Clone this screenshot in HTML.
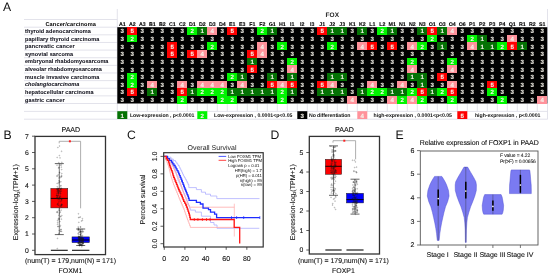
<!DOCTYPE html>
<html><head><meta charset="utf-8"><style>
html,body{margin:0;padding:0;background:#fff;}
body{width:550px;height:277px;overflow:hidden;}
svg{display:block;font-family:"Liberation Sans",Arial,sans-serif;text-rendering:geometricPrecision;}
.pl{font-size:12.2px;fill:#111;}
.fox{font-size:6.5px;font-weight:bold;fill:#222;text-anchor:middle;}
.hd{font-size:5.3px;font-weight:bold;fill:#000;stroke:#000;stroke-width:0.1px;}
.rl{font-size:5.5px;font-weight:bold;fill:#151520;stroke:#151520;stroke-width:0.07px;}
.hd0{letter-spacing:0.3px;}
.it{font-style:italic;}
.cv{font-size:6.2px;font-weight:bold;fill:#f6f2ea;stroke:#f6f2ea;stroke-width:0.08px;text-anchor:middle;}
.lg{font-size:5.2px;font-weight:bold;fill:#111;}
.t6{font-size:7px;fill:#111;stroke:#111;stroke-width:0.1px;}
.tk{font-size:6.8px;fill:#111;stroke:#111;stroke-width:0.1px;}
.t63{font-size:6.95px;fill:#111;stroke:#111;stroke-width:0.1px;}
.t65{font-size:7px;fill:#111;stroke:#111;stroke-width:0.1px;}
.t7{font-size:7px;fill:#222;}
.t45{font-size:4.25px;fill:#111;}
.t5{font-size:5px;fill:#111;stroke:#111;stroke-width:0.05px;}
</style></head><body>
<svg width="550" height="277" viewBox="0 0 550 277">
<text x="3.0" y="10.9" class="pl">A</text>
<line x1="24" y1="19.5" x2="117.3" y2="19.5" stroke="#dcdce6" stroke-width="0.8"/>
<line x1="24" y1="27.2" x2="117.3" y2="27.2" stroke="#dcdce6" stroke-width="0.8"/>
<line x1="24" y1="34.83" x2="117.3" y2="34.83" stroke="#dcdce6" stroke-width="0.8"/>
<line x1="24" y1="42.46" x2="117.3" y2="42.46" stroke="#dcdce6" stroke-width="0.8"/>
<line x1="24" y1="50.09" x2="117.3" y2="50.09" stroke="#dcdce6" stroke-width="0.8"/>
<line x1="24" y1="57.72" x2="117.3" y2="57.72" stroke="#dcdce6" stroke-width="0.8"/>
<line x1="24" y1="65.35" x2="117.3" y2="65.35" stroke="#dcdce6" stroke-width="0.8"/>
<line x1="24" y1="72.98" x2="117.3" y2="72.98" stroke="#dcdce6" stroke-width="0.8"/>
<line x1="24" y1="80.61" x2="117.3" y2="80.61" stroke="#dcdce6" stroke-width="0.8"/>
<line x1="24" y1="88.24" x2="117.3" y2="88.24" stroke="#dcdce6" stroke-width="0.8"/>
<line x1="24" y1="95.87" x2="117.3" y2="95.87" stroke="#dcdce6" stroke-width="0.8"/>
<line x1="24" y1="103.5" x2="117.3" y2="103.5" stroke="#dcdce6" stroke-width="0.8"/>
<line x1="24" y1="111.4" x2="117.3" y2="111.4" stroke="#dcdce6" stroke-width="0.8"/>
<line x1="24" y1="119.2" x2="117.3" y2="119.2" stroke="#dcdce6" stroke-width="0.8"/>
<line x1="117.3" y1="111.4" x2="547.5" y2="111.4" stroke="#dcdce6" stroke-width="0.8"/>
<line x1="117.3" y1="119.2" x2="547.5" y2="119.2" stroke="#dcdce6" stroke-width="0.8"/>
<line x1="117.3" y1="9" x2="117.3" y2="119.2" stroke="#dcdce6" stroke-width="0.8"/>
<line x1="547.5" y1="9" x2="547.5" y2="119.2" stroke="#dcdce6" stroke-width="0.8"/>
<line x1="127.3" y1="103.5" x2="127.3" y2="111.4" stroke="#dcdce6" stroke-width="0.8"/>
<line x1="137.3" y1="103.5" x2="137.3" y2="111.4" stroke="#dcdce6" stroke-width="0.8"/>
<line x1="147.3" y1="103.5" x2="147.3" y2="111.4" stroke="#dcdce6" stroke-width="0.8"/>
<line x1="157.3" y1="103.5" x2="157.3" y2="111.4" stroke="#dcdce6" stroke-width="0.8"/>
<line x1="167.3" y1="103.5" x2="167.3" y2="111.4" stroke="#dcdce6" stroke-width="0.8"/>
<line x1="177.3" y1="103.5" x2="177.3" y2="111.4" stroke="#dcdce6" stroke-width="0.8"/>
<line x1="187.3" y1="103.5" x2="187.3" y2="111.4" stroke="#dcdce6" stroke-width="0.8"/>
<line x1="197.3" y1="103.5" x2="197.3" y2="111.4" stroke="#dcdce6" stroke-width="0.8"/>
<line x1="207.3" y1="103.5" x2="207.3" y2="111.4" stroke="#dcdce6" stroke-width="0.8"/>
<line x1="217.3" y1="103.5" x2="217.3" y2="111.4" stroke="#dcdce6" stroke-width="0.8"/>
<line x1="227.3" y1="103.5" x2="227.3" y2="111.4" stroke="#dcdce6" stroke-width="0.8"/>
<line x1="237.3" y1="103.5" x2="237.3" y2="111.4" stroke="#dcdce6" stroke-width="0.8"/>
<line x1="247.3" y1="103.5" x2="247.3" y2="111.4" stroke="#dcdce6" stroke-width="0.8"/>
<line x1="257.3" y1="103.5" x2="257.3" y2="111.4" stroke="#dcdce6" stroke-width="0.8"/>
<line x1="267.3" y1="103.5" x2="267.3" y2="111.4" stroke="#dcdce6" stroke-width="0.8"/>
<line x1="277.3" y1="103.5" x2="277.3" y2="111.4" stroke="#dcdce6" stroke-width="0.8"/>
<line x1="287.3" y1="103.5" x2="287.3" y2="111.4" stroke="#dcdce6" stroke-width="0.8"/>
<line x1="297.3" y1="103.5" x2="297.3" y2="111.4" stroke="#dcdce6" stroke-width="0.8"/>
<line x1="307.3" y1="103.5" x2="307.3" y2="111.4" stroke="#dcdce6" stroke-width="0.8"/>
<line x1="317.3" y1="103.5" x2="317.3" y2="111.4" stroke="#dcdce6" stroke-width="0.8"/>
<line x1="327.3" y1="103.5" x2="327.3" y2="111.4" stroke="#dcdce6" stroke-width="0.8"/>
<line x1="337.3" y1="103.5" x2="337.3" y2="111.4" stroke="#dcdce6" stroke-width="0.8"/>
<line x1="347.3" y1="103.5" x2="347.3" y2="111.4" stroke="#dcdce6" stroke-width="0.8"/>
<line x1="357.3" y1="103.5" x2="357.3" y2="111.4" stroke="#dcdce6" stroke-width="0.8"/>
<line x1="367.3" y1="103.5" x2="367.3" y2="111.4" stroke="#dcdce6" stroke-width="0.8"/>
<line x1="377.3" y1="103.5" x2="377.3" y2="111.4" stroke="#dcdce6" stroke-width="0.8"/>
<line x1="387.3" y1="103.5" x2="387.3" y2="111.4" stroke="#dcdce6" stroke-width="0.8"/>
<line x1="397.3" y1="103.5" x2="397.3" y2="111.4" stroke="#dcdce6" stroke-width="0.8"/>
<line x1="407.3" y1="103.5" x2="407.3" y2="111.4" stroke="#dcdce6" stroke-width="0.8"/>
<line x1="417.3" y1="103.5" x2="417.3" y2="111.4" stroke="#dcdce6" stroke-width="0.8"/>
<line x1="427.3" y1="103.5" x2="427.3" y2="111.4" stroke="#dcdce6" stroke-width="0.8"/>
<line x1="437.3" y1="103.5" x2="437.3" y2="111.4" stroke="#dcdce6" stroke-width="0.8"/>
<line x1="447.3" y1="103.5" x2="447.3" y2="111.4" stroke="#dcdce6" stroke-width="0.8"/>
<line x1="457.3" y1="103.5" x2="457.3" y2="111.4" stroke="#dcdce6" stroke-width="0.8"/>
<line x1="467.3" y1="103.5" x2="467.3" y2="111.4" stroke="#dcdce6" stroke-width="0.8"/>
<line x1="477.3" y1="103.5" x2="477.3" y2="111.4" stroke="#dcdce6" stroke-width="0.8"/>
<line x1="487.3" y1="103.5" x2="487.3" y2="111.4" stroke="#dcdce6" stroke-width="0.8"/>
<line x1="497.3" y1="103.5" x2="497.3" y2="111.4" stroke="#dcdce6" stroke-width="0.8"/>
<line x1="507.3" y1="103.5" x2="507.3" y2="111.4" stroke="#dcdce6" stroke-width="0.8"/>
<line x1="517.3" y1="103.5" x2="517.3" y2="111.4" stroke="#dcdce6" stroke-width="0.8"/>
<line x1="527.3" y1="103.5" x2="527.3" y2="111.4" stroke="#dcdce6" stroke-width="0.8"/>
<line x1="537.3" y1="103.5" x2="537.3" y2="111.4" stroke="#dcdce6" stroke-width="0.8"/>
<text x="332.3" y="16.5" class="fox">FOX</text>
<text x="70.65" y="25.7" class="hd" text-anchor="middle" textLength="50.4" style="font-size:5.6px;stroke:none">Cancer/carcinoma</text>
<text x="122.3" y="25.6" class="hd" text-anchor="middle">A1</text>
<text x="132.3" y="25.6" class="hd" text-anchor="middle">A2</text>
<text x="142.3" y="25.6" class="hd" text-anchor="middle">A3</text>
<text x="152.3" y="25.6" class="hd" text-anchor="middle">B1</text>
<text x="162.3" y="25.6" class="hd" text-anchor="middle">B2</text>
<text x="172.3" y="25.6" class="hd" text-anchor="middle">C1</text>
<text x="182.3" y="25.6" class="hd" text-anchor="middle">C2</text>
<text x="192.3" y="25.6" class="hd" text-anchor="middle">D1</text>
<text x="202.3" y="25.6" class="hd" text-anchor="middle">D2</text>
<text x="212.3" y="25.6" class="hd" text-anchor="middle">D3</text>
<text x="222.3" y="25.6" class="hd" text-anchor="middle">D4</text>
<text x="232.3" y="25.6" class="hd" text-anchor="middle">E1</text>
<text x="242.3" y="25.6" class="hd" text-anchor="middle">E3</text>
<text x="252.3" y="25.6" class="hd" text-anchor="middle">F1</text>
<text x="262.3" y="25.6" class="hd" text-anchor="middle">F2</text>
<text x="272.3" y="25.6" class="hd" text-anchor="middle">G1</text>
<text x="282.3" y="25.6" class="hd" text-anchor="middle">H1</text>
<text x="292.3" y="25.6" class="hd" text-anchor="middle">I1</text>
<text x="302.3" y="25.6" class="hd" text-anchor="middle">I2</text>
<text x="312.3" y="25.6" class="hd" text-anchor="middle">I3</text>
<text x="322.3" y="25.6" class="hd" text-anchor="middle">J1</text>
<text x="332.3" y="25.6" class="hd" text-anchor="middle">J2</text>
<text x="342.3" y="25.6" class="hd" text-anchor="middle">J3</text>
<text x="352.3" y="25.6" class="hd" text-anchor="middle">K1</text>
<text x="362.3" y="25.6" class="hd" text-anchor="middle">K2</text>
<text x="372.3" y="25.6" class="hd" text-anchor="middle">L1</text>
<text x="382.3" y="25.6" class="hd" text-anchor="middle">L2</text>
<text x="392.3" y="25.6" class="hd" text-anchor="middle">M1</text>
<text x="402.3" y="25.6" class="hd" text-anchor="middle">N1</text>
<text x="412.3" y="25.6" class="hd" text-anchor="middle">N2</text>
<text x="422.3" y="25.6" class="hd" text-anchor="middle">N3</text>
<text x="432.3" y="25.6" class="hd" text-anchor="middle">O1</text>
<text x="442.3" y="25.6" class="hd" text-anchor="middle">O3</text>
<text x="452.3" y="25.6" class="hd" text-anchor="middle">O4</text>
<text x="462.3" y="25.6" class="hd" text-anchor="middle">O6</text>
<text x="472.3" y="25.6" class="hd" text-anchor="middle">P1</text>
<text x="482.3" y="25.6" class="hd" text-anchor="middle">P2</text>
<text x="492.3" y="25.6" class="hd" text-anchor="middle">P3</text>
<text x="502.3" y="25.6" class="hd" text-anchor="middle">P4</text>
<text x="512.3" y="25.6" class="hd" text-anchor="middle">Q1</text>
<text x="522.3" y="25.6" class="hd" text-anchor="middle">R1</text>
<text x="532.3" y="25.6" class="hd" text-anchor="middle">R2</text>
<text x="542.3" y="25.6" class="hd" text-anchor="middle">S1</text>
<rect x="117.3" y="27.2" width="430.0" height="76.3" fill="#000"/>
<text x="25" y="32.90" class="rl" textLength="65.7">thyroid adenocarcinoma</text>
<text x="122.30" y="33.40" class="cv">3</text>
<rect x="127.30" y="27.20" width="10.0" height="7.63" fill="#ff0000" shape-rendering="crispEdges"/>
<text x="132.30" y="33.40" class="cv">5</text>
<text x="142.30" y="33.40" class="cv">3</text>
<text x="152.30" y="33.40" class="cv">3</text>
<text x="162.30" y="33.40" class="cv">3</text>
<text x="172.30" y="33.40" class="cv">3</text>
<text x="182.30" y="33.40" class="cv">3</text>
<rect x="187.30" y="27.20" width="10.0" height="7.63" fill="#00f400" shape-rendering="crispEdges"/>
<text x="192.30" y="33.40" class="cv">2</text>
<rect x="197.30" y="27.20" width="10.0" height="7.63" fill="#047204" shape-rendering="crispEdges"/>
<text x="202.30" y="33.40" class="cv">1</text>
<rect x="207.30" y="27.20" width="10.0" height="7.63" fill="#ff929b" shape-rendering="crispEdges"/>
<text x="212.30" y="33.40" class="cv">4</text>
<text x="222.30" y="33.40" class="cv">3</text>
<rect x="227.30" y="27.20" width="10.0" height="7.63" fill="#ff0000" shape-rendering="crispEdges"/>
<text x="232.30" y="33.40" class="cv">5</text>
<text x="242.30" y="33.40" class="cv">3</text>
<text x="252.30" y="33.40" class="cv">3</text>
<rect x="257.30" y="27.20" width="10.0" height="7.63" fill="#00f400" shape-rendering="crispEdges"/>
<text x="262.30" y="33.40" class="cv">2</text>
<rect x="267.30" y="27.20" width="10.0" height="7.63" fill="#047204" shape-rendering="crispEdges"/>
<text x="272.30" y="33.40" class="cv">1</text>
<text x="282.30" y="33.40" class="cv">3</text>
<text x="292.30" y="33.40" class="cv">3</text>
<text x="302.30" y="33.40" class="cv">3</text>
<text x="312.30" y="33.40" class="cv">3</text>
<rect x="317.30" y="27.20" width="10.0" height="7.63" fill="#ff0000" shape-rendering="crispEdges"/>
<text x="322.30" y="33.40" class="cv">5</text>
<rect x="327.30" y="27.20" width="10.0" height="7.63" fill="#047204" shape-rendering="crispEdges"/>
<text x="332.30" y="33.40" class="cv">1</text>
<rect x="337.30" y="27.20" width="10.0" height="7.63" fill="#047204" shape-rendering="crispEdges"/>
<text x="342.30" y="33.40" class="cv">1</text>
<text x="352.30" y="33.40" class="cv">3</text>
<rect x="357.30" y="27.20" width="10.0" height="7.63" fill="#047204" shape-rendering="crispEdges"/>
<text x="362.30" y="33.40" class="cv">1</text>
<text x="372.30" y="33.40" class="cv">3</text>
<rect x="377.30" y="27.20" width="10.0" height="7.63" fill="#00f400" shape-rendering="crispEdges"/>
<text x="382.30" y="33.40" class="cv">2</text>
<rect x="387.30" y="27.20" width="10.0" height="7.63" fill="#047204" shape-rendering="crispEdges"/>
<text x="392.30" y="33.40" class="cv">1</text>
<text x="402.30" y="33.40" class="cv">3</text>
<text x="412.30" y="33.40" class="cv">3</text>
<rect x="417.30" y="27.20" width="10.0" height="7.63" fill="#047204" shape-rendering="crispEdges"/>
<text x="422.30" y="33.40" class="cv">1</text>
<rect x="427.30" y="27.20" width="10.0" height="7.63" fill="#ff0000" shape-rendering="crispEdges"/>
<text x="432.30" y="33.40" class="cv">5</text>
<rect x="437.30" y="27.20" width="10.0" height="7.63" fill="#047204" shape-rendering="crispEdges"/>
<text x="442.30" y="33.40" class="cv">1</text>
<rect x="447.30" y="27.20" width="10.0" height="7.63" fill="#ff929b" shape-rendering="crispEdges"/>
<text x="452.30" y="33.40" class="cv">4</text>
<text x="462.30" y="33.40" class="cv">3</text>
<text x="472.30" y="33.40" class="cv">3</text>
<text x="482.30" y="33.40" class="cv">3</text>
<text x="492.30" y="33.40" class="cv">3</text>
<text x="502.30" y="33.40" class="cv">3</text>
<text x="512.30" y="33.40" class="cv">3</text>
<text x="522.30" y="33.40" class="cv">3</text>
<text x="532.30" y="33.40" class="cv">3</text>
<text x="542.30" y="33.40" class="cv">3</text>
<text x="25" y="40.53" class="rl" textLength="74.3">papillary thyroid carcinoma</text>
<text x="122.30" y="41.03" class="cv">3</text>
<rect x="127.30" y="34.83" width="10.0" height="7.63" fill="#00f400" shape-rendering="crispEdges"/>
<text x="132.30" y="41.03" class="cv">2</text>
<text x="142.30" y="41.03" class="cv">3</text>
<text x="152.30" y="41.03" class="cv">3</text>
<text x="162.30" y="41.03" class="cv">3</text>
<text x="172.30" y="41.03" class="cv">3</text>
<text x="182.30" y="41.03" class="cv">3</text>
<text x="192.30" y="41.03" class="cv">3</text>
<text x="202.30" y="41.03" class="cv">3</text>
<text x="212.30" y="41.03" class="cv">3</text>
<text x="222.30" y="41.03" class="cv">3</text>
<text x="232.30" y="41.03" class="cv">3</text>
<text x="242.30" y="41.03" class="cv">3</text>
<text x="252.30" y="41.03" class="cv">3</text>
<text x="262.30" y="41.03" class="cv">3</text>
<text x="272.30" y="41.03" class="cv">3</text>
<text x="282.30" y="41.03" class="cv">3</text>
<text x="292.30" y="41.03" class="cv">3</text>
<text x="302.30" y="41.03" class="cv">3</text>
<text x="312.30" y="41.03" class="cv">3</text>
<text x="322.30" y="41.03" class="cv">3</text>
<text x="332.30" y="41.03" class="cv">3</text>
<text x="342.30" y="41.03" class="cv">3</text>
<text x="352.30" y="41.03" class="cv">3</text>
<text x="362.30" y="41.03" class="cv">3</text>
<text x="372.30" y="41.03" class="cv">3</text>
<text x="382.30" y="41.03" class="cv">3</text>
<text x="392.30" y="41.03" class="cv">3</text>
<text x="402.30" y="41.03" class="cv">3</text>
<text x="412.30" y="41.03" class="cv">3</text>
<text x="422.30" y="41.03" class="cv">3</text>
<rect x="427.30" y="34.83" width="10.0" height="7.63" fill="#00f400" shape-rendering="crispEdges"/>
<text x="432.30" y="41.03" class="cv">2</text>
<text x="442.30" y="41.03" class="cv">3</text>
<text x="452.30" y="41.03" class="cv">3</text>
<text x="462.30" y="41.03" class="cv">3</text>
<rect x="467.30" y="34.83" width="10.0" height="7.63" fill="#00f400" shape-rendering="crispEdges"/>
<text x="472.30" y="41.03" class="cv">2</text>
<rect x="477.30" y="34.83" width="10.0" height="7.63" fill="#047204" shape-rendering="crispEdges"/>
<text x="482.30" y="41.03" class="cv">1</text>
<text x="492.30" y="41.03" class="cv">3</text>
<text x="502.30" y="41.03" class="cv">3</text>
<rect x="507.30" y="34.83" width="10.0" height="7.63" fill="#ff929b" shape-rendering="crispEdges"/>
<text x="512.30" y="41.03" class="cv">4</text>
<text x="522.30" y="41.03" class="cv">3</text>
<text x="532.30" y="41.03" class="cv">3</text>
<text x="542.30" y="41.03" class="cv">3</text>
<text x="25" y="48.16" class="rl" textLength="49.6">pancreatic cancer</text>
<text x="122.30" y="48.66" class="cv">3</text>
<text x="132.30" y="48.66" class="cv">3</text>
<text x="142.30" y="48.66" class="cv">3</text>
<text x="152.30" y="48.66" class="cv">3</text>
<text x="162.30" y="48.66" class="cv">3</text>
<rect x="167.30" y="42.46" width="10.0" height="7.63" fill="#ff0000" shape-rendering="crispEdges"/>
<text x="172.30" y="48.66" class="cv">5</text>
<text x="182.30" y="48.66" class="cv">3</text>
<text x="192.30" y="48.66" class="cv">3</text>
<text x="202.30" y="48.66" class="cv">3</text>
<rect x="207.30" y="42.46" width="10.0" height="7.63" fill="#00f400" shape-rendering="crispEdges"/>
<text x="212.30" y="48.66" class="cv">2</text>
<text x="222.30" y="48.66" class="cv">3</text>
<text x="232.30" y="48.66" class="cv">3</text>
<text x="242.30" y="48.66" class="cv">3</text>
<text x="252.30" y="48.66" class="cv">3</text>
<rect x="257.30" y="42.46" width="10.0" height="7.63" fill="#ff929b" shape-rendering="crispEdges"/>
<text x="262.30" y="48.66" class="cv">4</text>
<text x="272.30" y="48.66" class="cv">3</text>
<rect x="277.30" y="42.46" width="10.0" height="7.63" fill="#00f400" shape-rendering="crispEdges"/>
<text x="282.30" y="48.66" class="cv">2</text>
<text x="292.30" y="48.66" class="cv">3</text>
<text x="302.30" y="48.66" class="cv">3</text>
<text x="312.30" y="48.66" class="cv">3</text>
<text x="322.30" y="48.66" class="cv">3</text>
<rect x="327.30" y="42.46" width="10.0" height="7.63" fill="#00f400" shape-rendering="crispEdges"/>
<text x="332.30" y="48.66" class="cv">2</text>
<text x="342.30" y="48.66" class="cv">3</text>
<text x="352.30" y="48.66" class="cv">3</text>
<rect x="357.30" y="42.46" width="10.0" height="7.63" fill="#ff929b" shape-rendering="crispEdges"/>
<text x="362.30" y="48.66" class="cv">4</text>
<rect x="367.30" y="42.46" width="10.0" height="7.63" fill="#ff0000" shape-rendering="crispEdges"/>
<text x="372.30" y="48.66" class="cv">5</text>
<text x="382.30" y="48.66" class="cv">3</text>
<rect x="387.30" y="42.46" width="10.0" height="7.63" fill="#ff0000" shape-rendering="crispEdges"/>
<text x="392.30" y="48.66" class="cv">5</text>
<text x="402.30" y="48.66" class="cv">3</text>
<rect x="407.30" y="42.46" width="10.0" height="7.63" fill="#ff929b" shape-rendering="crispEdges"/>
<text x="412.30" y="48.66" class="cv">4</text>
<rect x="417.30" y="42.46" width="10.0" height="7.63" fill="#00f400" shape-rendering="crispEdges"/>
<text x="422.30" y="48.66" class="cv">2</text>
<text x="432.30" y="48.66" class="cv">3</text>
<rect x="437.30" y="42.46" width="10.0" height="7.63" fill="#047204" shape-rendering="crispEdges"/>
<text x="442.30" y="48.66" class="cv">1</text>
<text x="452.30" y="48.66" class="cv">3</text>
<text x="462.30" y="48.66" class="cv">3</text>
<rect x="467.30" y="42.46" width="10.0" height="7.63" fill="#ff929b" shape-rendering="crispEdges"/>
<text x="472.30" y="48.66" class="cv">4</text>
<rect x="477.30" y="42.46" width="10.0" height="7.63" fill="#047204" shape-rendering="crispEdges"/>
<text x="482.30" y="48.66" class="cv">1</text>
<rect x="487.30" y="42.46" width="10.0" height="7.63" fill="#047204" shape-rendering="crispEdges"/>
<text x="492.30" y="48.66" class="cv">1</text>
<rect x="497.30" y="42.46" width="10.0" height="7.63" fill="#00f400" shape-rendering="crispEdges"/>
<text x="502.30" y="48.66" class="cv">2</text>
<rect x="507.30" y="42.46" width="10.0" height="7.63" fill="#ff0000" shape-rendering="crispEdges"/>
<text x="512.30" y="48.66" class="cv">5</text>
<rect x="517.30" y="42.46" width="10.0" height="7.63" fill="#047204" shape-rendering="crispEdges"/>
<text x="522.30" y="48.66" class="cv">1</text>
<text x="532.30" y="48.66" class="cv">3</text>
<text x="542.30" y="48.66" class="cv">3</text>
<text x="25" y="55.79" class="rl" textLength="48.0">synovial sarcoma</text>
<text x="122.30" y="56.29" class="cv">3</text>
<text x="132.30" y="56.29" class="cv">3</text>
<text x="142.30" y="56.29" class="cv">3</text>
<text x="152.30" y="56.29" class="cv">3</text>
<text x="162.30" y="56.29" class="cv">3</text>
<rect x="167.30" y="50.09" width="10.0" height="7.63" fill="#ff0000" shape-rendering="crispEdges"/>
<text x="172.30" y="56.29" class="cv">5</text>
<text x="182.30" y="56.29" class="cv">3</text>
<rect x="187.30" y="50.09" width="10.0" height="7.63" fill="#ff0000" shape-rendering="crispEdges"/>
<text x="192.30" y="56.29" class="cv">5</text>
<rect x="197.30" y="50.09" width="10.0" height="7.63" fill="#ff929b" shape-rendering="crispEdges"/>
<text x="202.30" y="56.29" class="cv">4</text>
<text x="212.30" y="56.29" class="cv">3</text>
<text x="222.30" y="56.29" class="cv">3</text>
<text x="232.30" y="56.29" class="cv">3</text>
<text x="242.30" y="56.29" class="cv">3</text>
<rect x="247.30" y="50.09" width="10.0" height="7.63" fill="#ff0000" shape-rendering="crispEdges"/>
<text x="252.30" y="56.29" class="cv">5</text>
<rect x="257.30" y="50.09" width="10.0" height="7.63" fill="#ff929b" shape-rendering="crispEdges"/>
<text x="262.30" y="56.29" class="cv">4</text>
<text x="272.30" y="56.29" class="cv">3</text>
<text x="282.30" y="56.29" class="cv">3</text>
<text x="292.30" y="56.29" class="cv">3</text>
<text x="302.30" y="56.29" class="cv">3</text>
<text x="312.30" y="56.29" class="cv">3</text>
<text x="322.30" y="56.29" class="cv">3</text>
<text x="332.30" y="56.29" class="cv">3</text>
<text x="342.30" y="56.29" class="cv">3</text>
<text x="352.30" y="56.29" class="cv">3</text>
<text x="362.30" y="56.29" class="cv">3</text>
<text x="372.30" y="56.29" class="cv">3</text>
<text x="382.30" y="56.29" class="cv">3</text>
<text x="392.30" y="56.29" class="cv">3</text>
<text x="402.30" y="56.29" class="cv">3</text>
<text x="412.30" y="56.29" class="cv">3</text>
<text x="422.30" y="56.29" class="cv">3</text>
<text x="432.30" y="56.29" class="cv">3</text>
<text x="442.30" y="56.29" class="cv">3</text>
<text x="452.30" y="56.29" class="cv">3</text>
<text x="462.30" y="56.29" class="cv">3</text>
<text x="472.30" y="56.29" class="cv">3</text>
<text x="482.30" y="56.29" class="cv">3</text>
<text x="492.30" y="56.29" class="cv">3</text>
<text x="502.30" y="56.29" class="cv">3</text>
<text x="512.30" y="56.29" class="cv">3</text>
<text x="522.30" y="56.29" class="cv">3</text>
<text x="532.30" y="56.29" class="cv">3</text>
<text x="542.30" y="56.29" class="cv">3</text>
<text x="25" y="63.42" class="rl" textLength="83.4">embryonal rhabdomyosarcoma</text>
<text x="122.30" y="63.92" class="cv">3</text>
<text x="132.30" y="63.92" class="cv">3</text>
<text x="142.30" y="63.92" class="cv">3</text>
<text x="152.30" y="63.92" class="cv">3</text>
<text x="162.30" y="63.92" class="cv">3</text>
<text x="172.30" y="63.92" class="cv">3</text>
<text x="182.30" y="63.92" class="cv">3</text>
<text x="192.30" y="63.92" class="cv">3</text>
<text x="202.30" y="63.92" class="cv">3</text>
<text x="212.30" y="63.92" class="cv">3</text>
<text x="222.30" y="63.92" class="cv">3</text>
<text x="232.30" y="63.92" class="cv">3</text>
<text x="242.30" y="63.92" class="cv">3</text>
<rect x="247.30" y="57.72" width="10.0" height="7.63" fill="#047204" shape-rendering="crispEdges"/>
<text x="252.30" y="63.92" class="cv">1</text>
<text x="262.30" y="63.92" class="cv">3</text>
<text x="272.30" y="63.92" class="cv">3</text>
<text x="282.30" y="63.92" class="cv">3</text>
<rect x="287.30" y="57.72" width="10.0" height="7.63" fill="#00f400" shape-rendering="crispEdges"/>
<text x="292.30" y="63.92" class="cv">2</text>
<text x="302.30" y="63.92" class="cv">3</text>
<text x="312.30" y="63.92" class="cv">3</text>
<text x="322.30" y="63.92" class="cv">3</text>
<text x="332.30" y="63.92" class="cv">3</text>
<text x="342.30" y="63.92" class="cv">3</text>
<text x="352.30" y="63.92" class="cv">3</text>
<text x="362.30" y="63.92" class="cv">3</text>
<text x="372.30" y="63.92" class="cv">3</text>
<text x="382.30" y="63.92" class="cv">3</text>
<text x="392.30" y="63.92" class="cv">3</text>
<text x="402.30" y="63.92" class="cv">3</text>
<rect x="407.30" y="57.72" width="10.0" height="7.63" fill="#00f400" shape-rendering="crispEdges"/>
<text x="412.30" y="63.92" class="cv">2</text>
<text x="422.30" y="63.92" class="cv">3</text>
<text x="432.30" y="63.92" class="cv">3</text>
<text x="442.30" y="63.92" class="cv">3</text>
<rect x="447.30" y="57.72" width="10.0" height="7.63" fill="#00f400" shape-rendering="crispEdges"/>
<text x="452.30" y="63.92" class="cv">2</text>
<text x="462.30" y="63.92" class="cv">3</text>
<text x="472.30" y="63.92" class="cv">3</text>
<text x="482.30" y="63.92" class="cv">3</text>
<text x="492.30" y="63.92" class="cv">3</text>
<text x="502.30" y="63.92" class="cv">3</text>
<text x="512.30" y="63.92" class="cv">3</text>
<text x="522.30" y="63.92" class="cv">3</text>
<text x="532.30" y="63.92" class="cv">3</text>
<text x="542.30" y="63.92" class="cv">3</text>
<text x="25" y="71.05" class="rl" textLength="76.9">alveolar rhabdomyosarcoma</text>
<text x="122.30" y="71.55" class="cv">3</text>
<text x="132.30" y="71.55" class="cv">3</text>
<text x="142.30" y="71.55" class="cv">3</text>
<text x="152.30" y="71.55" class="cv">3</text>
<text x="162.30" y="71.55" class="cv">3</text>
<text x="172.30" y="71.55" class="cv">3</text>
<text x="182.30" y="71.55" class="cv">3</text>
<text x="192.30" y="71.55" class="cv">3</text>
<text x="202.30" y="71.55" class="cv">3</text>
<text x="212.30" y="71.55" class="cv">3</text>
<text x="222.30" y="71.55" class="cv">3</text>
<text x="232.30" y="71.55" class="cv">3</text>
<text x="242.30" y="71.55" class="cv">3</text>
<rect x="247.30" y="65.35" width="10.0" height="7.63" fill="#ff0000" shape-rendering="crispEdges"/>
<text x="252.30" y="71.55" class="cv">5</text>
<text x="262.30" y="71.55" class="cv">3</text>
<text x="272.30" y="71.55" class="cv">3</text>
<text x="282.30" y="71.55" class="cv">3</text>
<rect x="287.30" y="65.35" width="10.0" height="7.63" fill="#ff929b" shape-rendering="crispEdges"/>
<text x="292.30" y="71.55" class="cv">4</text>
<text x="302.30" y="71.55" class="cv">3</text>
<text x="312.30" y="71.55" class="cv">3</text>
<text x="322.30" y="71.55" class="cv">3</text>
<text x="332.30" y="71.55" class="cv">3</text>
<text x="342.30" y="71.55" class="cv">3</text>
<text x="352.30" y="71.55" class="cv">3</text>
<text x="362.30" y="71.55" class="cv">3</text>
<text x="372.30" y="71.55" class="cv">3</text>
<text x="382.30" y="71.55" class="cv">3</text>
<text x="392.30" y="71.55" class="cv">3</text>
<text x="402.30" y="71.55" class="cv">3</text>
<rect x="407.30" y="65.35" width="10.0" height="7.63" fill="#ff929b" shape-rendering="crispEdges"/>
<text x="412.30" y="71.55" class="cv">4</text>
<text x="422.30" y="71.55" class="cv">3</text>
<text x="432.30" y="71.55" class="cv">3</text>
<text x="442.30" y="71.55" class="cv">3</text>
<rect x="447.30" y="65.35" width="10.0" height="7.63" fill="#ff929b" shape-rendering="crispEdges"/>
<text x="452.30" y="71.55" class="cv">4</text>
<text x="462.30" y="71.55" class="cv">3</text>
<text x="472.30" y="71.55" class="cv">3</text>
<text x="482.30" y="71.55" class="cv">3</text>
<text x="492.30" y="71.55" class="cv">3</text>
<text x="502.30" y="71.55" class="cv">3</text>
<text x="512.30" y="71.55" class="cv">3</text>
<text x="522.30" y="71.55" class="cv">3</text>
<text x="532.30" y="71.55" class="cv">3</text>
<text x="542.30" y="71.55" class="cv">3</text>
<text x="25" y="78.68" class="rl" textLength="74.3">muscle invasive carcinoma</text>
<text x="122.30" y="79.18" class="cv">3</text>
<rect x="127.30" y="72.98" width="10.0" height="7.63" fill="#00f400" shape-rendering="crispEdges"/>
<text x="132.30" y="79.18" class="cv">2</text>
<text x="142.30" y="79.18" class="cv">3</text>
<text x="152.30" y="79.18" class="cv">3</text>
<text x="162.30" y="79.18" class="cv">3</text>
<text x="172.30" y="79.18" class="cv">3</text>
<text x="182.30" y="79.18" class="cv">3</text>
<text x="192.30" y="79.18" class="cv">3</text>
<text x="202.30" y="79.18" class="cv">3</text>
<text x="212.30" y="79.18" class="cv">3</text>
<text x="222.30" y="79.18" class="cv">3</text>
<rect x="227.30" y="72.98" width="10.0" height="7.63" fill="#00f400" shape-rendering="crispEdges"/>
<text x="232.30" y="79.18" class="cv">2</text>
<rect x="237.30" y="72.98" width="10.0" height="7.63" fill="#047204" shape-rendering="crispEdges"/>
<text x="242.30" y="79.18" class="cv">1</text>
<text x="252.30" y="79.18" class="cv">3</text>
<text x="262.30" y="79.18" class="cv">3</text>
<rect x="267.30" y="72.98" width="10.0" height="7.63" fill="#047204" shape-rendering="crispEdges"/>
<text x="272.30" y="79.18" class="cv">1</text>
<text x="282.30" y="79.18" class="cv">3</text>
<rect x="287.30" y="72.98" width="10.0" height="7.63" fill="#047204" shape-rendering="crispEdges"/>
<text x="292.30" y="79.18" class="cv">1</text>
<text x="302.30" y="79.18" class="cv">3</text>
<text x="312.30" y="79.18" class="cv">3</text>
<text x="322.30" y="79.18" class="cv">3</text>
<rect x="327.30" y="72.98" width="10.0" height="7.63" fill="#047204" shape-rendering="crispEdges"/>
<text x="332.30" y="79.18" class="cv">1</text>
<rect x="337.30" y="72.98" width="10.0" height="7.63" fill="#047204" shape-rendering="crispEdges"/>
<text x="342.30" y="79.18" class="cv">1</text>
<text x="352.30" y="79.18" class="cv">3</text>
<text x="362.30" y="79.18" class="cv">3</text>
<text x="372.30" y="79.18" class="cv">3</text>
<text x="382.30" y="79.18" class="cv">3</text>
<text x="392.30" y="79.18" class="cv">3</text>
<text x="402.30" y="79.18" class="cv">3</text>
<rect x="407.30" y="72.98" width="10.0" height="7.63" fill="#047204" shape-rendering="crispEdges"/>
<text x="412.30" y="79.18" class="cv">1</text>
<rect x="417.30" y="72.98" width="10.0" height="7.63" fill="#047204" shape-rendering="crispEdges"/>
<text x="422.30" y="79.18" class="cv">1</text>
<text x="432.30" y="79.18" class="cv">3</text>
<rect x="437.30" y="72.98" width="10.0" height="7.63" fill="#ff0000" shape-rendering="crispEdges"/>
<text x="442.30" y="79.18" class="cv">5</text>
<text x="452.30" y="79.18" class="cv">3</text>
<text x="462.30" y="79.18" class="cv">3</text>
<text x="472.30" y="79.18" class="cv">3</text>
<text x="482.30" y="79.18" class="cv">3</text>
<text x="492.30" y="79.18" class="cv">3</text>
<text x="502.30" y="79.18" class="cv">3</text>
<text x="512.30" y="79.18" class="cv">3</text>
<text x="522.30" y="79.18" class="cv">3</text>
<text x="532.30" y="79.18" class="cv">3</text>
<text x="542.30" y="79.18" class="cv">3</text>
<text x="25" y="86.31" class="rl it" textLength="54.3">cholangiocarcinoma</text>
<text x="122.30" y="86.81" class="cv">3</text>
<rect x="127.30" y="80.61" width="10.0" height="7.63" fill="#00f400" shape-rendering="crispEdges"/>
<text x="132.30" y="86.81" class="cv">2</text>
<text x="142.30" y="86.81" class="cv">3</text>
<rect x="147.30" y="80.61" width="10.0" height="7.63" fill="#ff929b" shape-rendering="crispEdges"/>
<text x="152.30" y="86.81" class="cv">4</text>
<text x="162.30" y="86.81" class="cv">3</text>
<text x="172.30" y="86.81" class="cv">3</text>
<rect x="177.30" y="80.61" width="10.0" height="7.63" fill="#ff929b" shape-rendering="crispEdges"/>
<text x="182.30" y="86.81" class="cv">4</text>
<text x="192.30" y="86.81" class="cv">3</text>
<rect x="197.30" y="80.61" width="10.0" height="7.63" fill="#ff929b" shape-rendering="crispEdges"/>
<text x="202.30" y="86.81" class="cv">4</text>
<rect x="207.30" y="80.61" width="10.0" height="7.63" fill="#ff929b" shape-rendering="crispEdges"/>
<text x="212.30" y="86.81" class="cv">4</text>
<rect x="217.30" y="80.61" width="10.0" height="7.63" fill="#ff929b" shape-rendering="crispEdges"/>
<text x="222.30" y="86.81" class="cv">4</text>
<text x="232.30" y="86.81" class="cv">3</text>
<rect x="237.30" y="80.61" width="10.0" height="7.63" fill="#ff929b" shape-rendering="crispEdges"/>
<text x="242.30" y="86.81" class="cv">4</text>
<text x="252.30" y="86.81" class="cv">3</text>
<text x="262.30" y="86.81" class="cv">3</text>
<rect x="267.30" y="80.61" width="10.0" height="7.63" fill="#ff0000" shape-rendering="crispEdges"/>
<text x="272.30" y="86.81" class="cv">5</text>
<rect x="277.30" y="80.61" width="10.0" height="7.63" fill="#ff929b" shape-rendering="crispEdges"/>
<text x="282.30" y="86.81" class="cv">4</text>
<rect x="287.30" y="80.61" width="10.0" height="7.63" fill="#ff0000" shape-rendering="crispEdges"/>
<text x="292.30" y="86.81" class="cv">5</text>
<text x="302.30" y="86.81" class="cv">3</text>
<text x="312.30" y="86.81" class="cv">3</text>
<rect x="317.30" y="80.61" width="10.0" height="7.63" fill="#ff0000" shape-rendering="crispEdges"/>
<text x="322.30" y="86.81" class="cv">5</text>
<rect x="327.30" y="80.61" width="10.0" height="7.63" fill="#ff929b" shape-rendering="crispEdges"/>
<text x="332.30" y="86.81" class="cv">4</text>
<text x="342.30" y="86.81" class="cv">3</text>
<text x="352.30" y="86.81" class="cv">3</text>
<text x="362.30" y="86.81" class="cv">3</text>
<rect x="367.30" y="80.61" width="10.0" height="7.63" fill="#ff929b" shape-rendering="crispEdges"/>
<text x="372.30" y="86.81" class="cv">4</text>
<text x="382.30" y="86.81" class="cv">3</text>
<text x="392.30" y="86.81" class="cv">3</text>
<rect x="397.30" y="80.61" width="10.0" height="7.63" fill="#ff929b" shape-rendering="crispEdges"/>
<text x="402.30" y="86.81" class="cv">4</text>
<text x="412.30" y="86.81" class="cv">3</text>
<rect x="417.30" y="80.61" width="10.0" height="7.63" fill="#047204" shape-rendering="crispEdges"/>
<text x="422.30" y="86.81" class="cv">1</text>
<text x="432.30" y="86.81" class="cv">3</text>
<text x="442.30" y="86.81" class="cv">3</text>
<rect x="447.30" y="80.61" width="10.0" height="7.63" fill="#ff929b" shape-rendering="crispEdges"/>
<text x="452.30" y="86.81" class="cv">4</text>
<text x="462.30" y="86.81" class="cv">3</text>
<text x="472.30" y="86.81" class="cv">3</text>
<text x="482.30" y="86.81" class="cv">3</text>
<rect x="487.30" y="80.61" width="10.0" height="7.63" fill="#ff0000" shape-rendering="crispEdges"/>
<text x="492.30" y="86.81" class="cv">5</text>
<text x="502.30" y="86.81" class="cv">3</text>
<text x="512.30" y="86.81" class="cv">3</text>
<text x="522.30" y="86.81" class="cv">3</text>
<text x="532.30" y="86.81" class="cv">3</text>
<text x="542.30" y="86.81" class="cv">3</text>
<text x="25" y="93.94" class="rl" textLength="68.5">hepatocellular carcinoma</text>
<text x="122.30" y="94.44" class="cv">3</text>
<rect x="127.30" y="88.24" width="10.0" height="7.63" fill="#ff0000" shape-rendering="crispEdges"/>
<text x="132.30" y="94.44" class="cv">5</text>
<text x="142.30" y="94.44" class="cv">3</text>
<rect x="147.30" y="88.24" width="10.0" height="7.63" fill="#047204" shape-rendering="crispEdges"/>
<text x="152.30" y="94.44" class="cv">1</text>
<text x="162.30" y="94.44" class="cv">3</text>
<text x="172.30" y="94.44" class="cv">3</text>
<rect x="177.30" y="88.24" width="10.0" height="7.63" fill="#ff0000" shape-rendering="crispEdges"/>
<text x="182.30" y="94.44" class="cv">5</text>
<rect x="187.30" y="88.24" width="10.0" height="7.63" fill="#047204" shape-rendering="crispEdges"/>
<text x="192.30" y="94.44" class="cv">1</text>
<rect x="197.30" y="88.24" width="10.0" height="7.63" fill="#00f400" shape-rendering="crispEdges"/>
<text x="202.30" y="94.44" class="cv">2</text>
<rect x="207.30" y="88.24" width="10.0" height="7.63" fill="#00f400" shape-rendering="crispEdges"/>
<text x="212.30" y="94.44" class="cv">2</text>
<rect x="217.30" y="88.24" width="10.0" height="7.63" fill="#00f400" shape-rendering="crispEdges"/>
<text x="222.30" y="94.44" class="cv">2</text>
<rect x="227.30" y="88.24" width="10.0" height="7.63" fill="#047204" shape-rendering="crispEdges"/>
<text x="232.30" y="94.44" class="cv">1</text>
<rect x="237.30" y="88.24" width="10.0" height="7.63" fill="#047204" shape-rendering="crispEdges"/>
<text x="242.30" y="94.44" class="cv">1</text>
<rect x="247.30" y="88.24" width="10.0" height="7.63" fill="#047204" shape-rendering="crispEdges"/>
<text x="252.30" y="94.44" class="cv">1</text>
<rect x="257.30" y="88.24" width="10.0" height="7.63" fill="#047204" shape-rendering="crispEdges"/>
<text x="262.30" y="94.44" class="cv">1</text>
<rect x="267.30" y="88.24" width="10.0" height="7.63" fill="#047204" shape-rendering="crispEdges"/>
<text x="272.30" y="94.44" class="cv">1</text>
<rect x="277.30" y="88.24" width="10.0" height="7.63" fill="#00f400" shape-rendering="crispEdges"/>
<text x="282.30" y="94.44" class="cv">2</text>
<rect x="287.30" y="88.24" width="10.0" height="7.63" fill="#047204" shape-rendering="crispEdges"/>
<text x="292.30" y="94.44" class="cv">1</text>
<text x="302.30" y="94.44" class="cv">3</text>
<text x="312.30" y="94.44" class="cv">3</text>
<rect x="317.30" y="88.24" width="10.0" height="7.63" fill="#047204" shape-rendering="crispEdges"/>
<text x="322.30" y="94.44" class="cv">1</text>
<rect x="327.30" y="88.24" width="10.0" height="7.63" fill="#047204" shape-rendering="crispEdges"/>
<text x="332.30" y="94.44" class="cv">1</text>
<rect x="337.30" y="88.24" width="10.0" height="7.63" fill="#047204" shape-rendering="crispEdges"/>
<text x="342.30" y="94.44" class="cv">1</text>
<text x="352.30" y="94.44" class="cv">3</text>
<rect x="357.30" y="88.24" width="10.0" height="7.63" fill="#047204" shape-rendering="crispEdges"/>
<text x="362.30" y="94.44" class="cv">1</text>
<rect x="367.30" y="88.24" width="10.0" height="7.63" fill="#00f400" shape-rendering="crispEdges"/>
<text x="372.30" y="94.44" class="cv">2</text>
<rect x="377.30" y="88.24" width="10.0" height="7.63" fill="#00f400" shape-rendering="crispEdges"/>
<text x="382.30" y="94.44" class="cv">2</text>
<rect x="387.30" y="88.24" width="10.0" height="7.63" fill="#047204" shape-rendering="crispEdges"/>
<text x="392.30" y="94.44" class="cv">1</text>
<rect x="397.30" y="88.24" width="10.0" height="7.63" fill="#047204" shape-rendering="crispEdges"/>
<text x="402.30" y="94.44" class="cv">1</text>
<rect x="407.30" y="88.24" width="10.0" height="7.63" fill="#00f400" shape-rendering="crispEdges"/>
<text x="412.30" y="94.44" class="cv">2</text>
<rect x="417.30" y="88.24" width="10.0" height="7.63" fill="#ff0000" shape-rendering="crispEdges"/>
<text x="422.30" y="94.44" class="cv">5</text>
<rect x="427.30" y="88.24" width="10.0" height="7.63" fill="#047204" shape-rendering="crispEdges"/>
<text x="432.30" y="94.44" class="cv">1</text>
<rect x="437.30" y="88.24" width="10.0" height="7.63" fill="#00f400" shape-rendering="crispEdges"/>
<text x="442.30" y="94.44" class="cv">2</text>
<rect x="447.30" y="88.24" width="10.0" height="7.63" fill="#ff0000" shape-rendering="crispEdges"/>
<text x="452.30" y="94.44" class="cv">5</text>
<text x="462.30" y="94.44" class="cv">3</text>
<text x="472.30" y="94.44" class="cv">3</text>
<text x="482.30" y="94.44" class="cv">3</text>
<rect x="487.30" y="88.24" width="10.0" height="7.63" fill="#00f400" shape-rendering="crispEdges"/>
<text x="492.30" y="94.44" class="cv">2</text>
<text x="502.30" y="94.44" class="cv">3</text>
<text x="512.30" y="94.44" class="cv">3</text>
<text x="522.30" y="94.44" class="cv">3</text>
<text x="532.30" y="94.44" class="cv">3</text>
<text x="542.30" y="94.44" class="cv">3</text>
<text x="25" y="101.57" class="rl" textLength="39.7">gastric cancer</text>
<text x="122.30" y="102.07" class="cv">3</text>
<text x="132.30" y="102.07" class="cv">3</text>
<text x="142.30" y="102.07" class="cv">3</text>
<text x="152.30" y="102.07" class="cv">3</text>
<text x="162.30" y="102.07" class="cv">3</text>
<text x="172.30" y="102.07" class="cv">3</text>
<rect x="177.30" y="95.87" width="10.0" height="7.63" fill="#00f400" shape-rendering="crispEdges"/>
<text x="182.30" y="102.07" class="cv">2</text>
<text x="192.30" y="102.07" class="cv">3</text>
<text x="202.30" y="102.07" class="cv">3</text>
<text x="212.30" y="102.07" class="cv">3</text>
<rect x="217.30" y="95.87" width="10.0" height="7.63" fill="#00f400" shape-rendering="crispEdges"/>
<text x="222.30" y="102.07" class="cv">2</text>
<rect x="227.30" y="95.87" width="10.0" height="7.63" fill="#00f400" shape-rendering="crispEdges"/>
<text x="232.30" y="102.07" class="cv">2</text>
<text x="242.30" y="102.07" class="cv">3</text>
<text x="252.30" y="102.07" class="cv">3</text>
<text x="262.30" y="102.07" class="cv">3</text>
<text x="272.30" y="102.07" class="cv">3</text>
<rect x="277.30" y="95.87" width="10.0" height="7.63" fill="#00f400" shape-rendering="crispEdges"/>
<text x="282.30" y="102.07" class="cv">2</text>
<text x="292.30" y="102.07" class="cv">3</text>
<text x="302.30" y="102.07" class="cv">3</text>
<text x="312.30" y="102.07" class="cv">3</text>
<text x="322.30" y="102.07" class="cv">3</text>
<text x="332.30" y="102.07" class="cv">3</text>
<text x="342.30" y="102.07" class="cv">3</text>
<rect x="347.30" y="95.87" width="10.0" height="7.63" fill="#ff929b" shape-rendering="crispEdges"/>
<text x="352.30" y="102.07" class="cv">4</text>
<text x="362.30" y="102.07" class="cv">3</text>
<text x="372.30" y="102.07" class="cv">3</text>
<text x="382.30" y="102.07" class="cv">3</text>
<rect x="387.30" y="95.87" width="10.0" height="7.63" fill="#ff929b" shape-rendering="crispEdges"/>
<text x="392.30" y="102.07" class="cv">4</text>
<rect x="397.30" y="95.87" width="10.0" height="7.63" fill="#00f400" shape-rendering="crispEdges"/>
<text x="402.30" y="102.07" class="cv">2</text>
<rect x="407.30" y="95.87" width="10.0" height="7.63" fill="#ff929b" shape-rendering="crispEdges"/>
<text x="412.30" y="102.07" class="cv">4</text>
<rect x="417.30" y="95.87" width="10.0" height="7.63" fill="#00f400" shape-rendering="crispEdges"/>
<text x="422.30" y="102.07" class="cv">2</text>
<text x="432.30" y="102.07" class="cv">3</text>
<text x="442.30" y="102.07" class="cv">3</text>
<rect x="447.30" y="95.87" width="10.0" height="7.63" fill="#00f400" shape-rendering="crispEdges"/>
<text x="452.30" y="102.07" class="cv">2</text>
<text x="462.30" y="102.07" class="cv">3</text>
<text x="472.30" y="102.07" class="cv">3</text>
<text x="482.30" y="102.07" class="cv">3</text>
<text x="492.30" y="102.07" class="cv">3</text>
<rect x="497.30" y="95.87" width="10.0" height="7.63" fill="#00f400" shape-rendering="crispEdges"/>
<text x="502.30" y="102.07" class="cv">2</text>
<text x="512.30" y="102.07" class="cv">3</text>
<text x="522.30" y="102.07" class="cv">3</text>
<text x="532.30" y="102.07" class="cv">3</text>
<rect x="537.30" y="95.87" width="10.0" height="7.63" fill="#ff929b" shape-rendering="crispEdges"/>
<text x="542.30" y="102.07" class="cv">4</text>
<rect x="117.3" y="111.2" width="10.0" height="7.8" fill="#047204"/>
<text x="122.3" y="117.5" class="cv">1</text>
<text x="130" y="117.4" class="lg" textLength="64.4">Low-expression , p&lt;0.0001</text>
<rect x="197.3" y="111.2" width="10.0" height="7.8" fill="#00f400"/>
<text x="202.3" y="117.5" class="cv">2</text>
<text x="214" y="117.4" class="lg" textLength="78.4">Low-expression , 0.0001&lt;p&lt;0.05</text>
<rect x="297.3" y="111.2" width="10.0" height="7.8" fill="#000000"/>
<text x="302.3" y="117.5" class="cv">3</text>
<text x="309" y="117.4" class="lg" textLength="41.4">No differentiation</text>
<rect x="357.3" y="111.2" width="10.0" height="7.8" fill="#ff929b"/>
<text x="362.3" y="117.5" class="cv">4</text>
<text x="373.6" y="117.4" class="lg" textLength="78.4">high-expression , 0.0001&lt;p&lt;0.05</text>
<rect x="457.3" y="111.2" width="10.0" height="7.8" fill="#ff0000"/>
<text x="462.3" y="117.5" class="cv">5</text>
<text x="475" y="117.4" class="lg" textLength="65.4">high-expression , p&lt;0.0001</text>
<text x="3.4" y="139" class="pl">B</text>
<text x="70.85" y="131.7" class="t6" text-anchor="middle" style="font-size:7.1px">PAAD</text>
<line x1="32" y1="250.30" x2="35" y2="250.30" stroke="#333" stroke-width="0.8"/>
<text x="28.9" y="252.70" class="tk" text-anchor="end">0</text>
<line x1="32" y1="234.00" x2="35" y2="234.00" stroke="#333" stroke-width="0.8"/>
<text x="28.9" y="236.40" class="tk" text-anchor="end">1</text>
<line x1="32" y1="217.70" x2="35" y2="217.70" stroke="#333" stroke-width="0.8"/>
<text x="28.9" y="220.10" class="tk" text-anchor="end">2</text>
<line x1="32" y1="201.40" x2="35" y2="201.40" stroke="#333" stroke-width="0.8"/>
<text x="28.9" y="203.80" class="tk" text-anchor="end">3</text>
<line x1="32" y1="185.10" x2="35" y2="185.10" stroke="#333" stroke-width="0.8"/>
<text x="28.9" y="187.50" class="tk" text-anchor="end">4</text>
<line x1="32" y1="168.80" x2="35" y2="168.80" stroke="#333" stroke-width="0.8"/>
<text x="28.9" y="171.20" class="tk" text-anchor="end">5</text>
<line x1="32" y1="152.50" x2="35" y2="152.50" stroke="#333" stroke-width="0.8"/>
<text x="28.9" y="154.90" class="tk" text-anchor="end">6</text>
<line x1="32" y1="136.20" x2="35" y2="136.20" stroke="#333" stroke-width="0.8"/>
<text x="28.9" y="138.60" class="tk" text-anchor="end">7</text>
<line x1="59.3" y1="163.6" x2="59.3" y2="234.6" stroke="#222" stroke-width="0.6"/>
<line x1="54.8" y1="163.6" x2="63.8" y2="163.6" stroke="#222" stroke-width="0.7"/>
<line x1="54.8" y1="234.6" x2="63.8" y2="234.6" stroke="#222" stroke-width="0.7"/>
<rect x="50.849999999999994" y="188.4" width="16.9" height="19.5" fill="#ff0000" stroke="#222" stroke-width="0.5"/>
<line x1="50.849999999999994" y1="198.4" x2="67.75" y2="198.4" stroke="#000" stroke-width="0.9"/>
<line x1="50.849999999999994" y1="250.30" x2="67.75" y2="250.30" stroke="#111" stroke-width="1.1"/>
<line x1="80.7" y1="229" x2="80.7" y2="245.5" stroke="#222" stroke-width="0.6"/>
<line x1="76.2" y1="229" x2="85.2" y2="229" stroke="#222" stroke-width="0.7"/>
<line x1="76.2" y1="245.5" x2="85.2" y2="245.5" stroke="#222" stroke-width="0.7"/>
<rect x="72.0" y="236.9" width="17.4" height="5.699999999999989" fill="#0000ff" stroke="#222" stroke-width="0.5"/>
<line x1="72.0" y1="240" x2="89.4" y2="240" stroke="#000" stroke-width="0.9"/>
<line x1="72.0" y1="250.30" x2="89.4" y2="250.30" stroke="#111" stroke-width="1.1"/>
<circle cx="60.08" cy="191.34" r="0.45" fill="none" stroke="#222" stroke-width="0.3" stroke-opacity="0.75"/>
<circle cx="58.60" cy="198.85" r="0.45" fill="none" stroke="#222" stroke-width="0.3" stroke-opacity="0.75"/>
<circle cx="56.89" cy="198.29" r="0.45" fill="none" stroke="#222" stroke-width="0.3" stroke-opacity="0.75"/>
<circle cx="57.17" cy="189.76" r="0.45" fill="none" stroke="#222" stroke-width="0.3" stroke-opacity="0.75"/>
<circle cx="57.34" cy="204.52" r="0.45" fill="none" stroke="#222" stroke-width="0.3" stroke-opacity="0.75"/>
<circle cx="61.63" cy="200.63" r="0.45" fill="none" stroke="#222" stroke-width="0.3" stroke-opacity="0.75"/>
<circle cx="61.78" cy="173.44" r="0.45" fill="none" stroke="#222" stroke-width="0.3" stroke-opacity="0.75"/>
<circle cx="58.21" cy="205.14" r="0.45" fill="none" stroke="#222" stroke-width="0.3" stroke-opacity="0.75"/>
<circle cx="58.30" cy="190.70" r="0.45" fill="none" stroke="#222" stroke-width="0.3" stroke-opacity="0.75"/>
<circle cx="59.72" cy="212.73" r="0.45" fill="none" stroke="#222" stroke-width="0.3" stroke-opacity="0.75"/>
<circle cx="59.55" cy="172.84" r="0.45" fill="none" stroke="#222" stroke-width="0.3" stroke-opacity="0.75"/>
<circle cx="57.77" cy="189.56" r="0.45" fill="none" stroke="#222" stroke-width="0.3" stroke-opacity="0.75"/>
<circle cx="58.33" cy="219.32" r="0.45" fill="none" stroke="#222" stroke-width="0.3" stroke-opacity="0.75"/>
<circle cx="58.26" cy="174.84" r="0.45" fill="none" stroke="#222" stroke-width="0.3" stroke-opacity="0.75"/>
<circle cx="57.97" cy="226.56" r="0.45" fill="none" stroke="#222" stroke-width="0.3" stroke-opacity="0.75"/>
<circle cx="61.25" cy="176.62" r="0.45" fill="none" stroke="#222" stroke-width="0.3" stroke-opacity="0.75"/>
<circle cx="61.80" cy="215.59" r="0.45" fill="none" stroke="#222" stroke-width="0.3" stroke-opacity="0.75"/>
<circle cx="60.64" cy="196.55" r="0.45" fill="none" stroke="#222" stroke-width="0.3" stroke-opacity="0.75"/>
<circle cx="56.90" cy="197.93" r="0.45" fill="none" stroke="#222" stroke-width="0.3" stroke-opacity="0.75"/>
<circle cx="59.68" cy="182.56" r="0.45" fill="none" stroke="#222" stroke-width="0.3" stroke-opacity="0.75"/>
<circle cx="60.32" cy="216.28" r="0.45" fill="none" stroke="#222" stroke-width="0.3" stroke-opacity="0.75"/>
<circle cx="59.07" cy="177.98" r="0.45" fill="none" stroke="#222" stroke-width="0.3" stroke-opacity="0.75"/>
<circle cx="59.17" cy="233.12" r="0.45" fill="none" stroke="#222" stroke-width="0.3" stroke-opacity="0.75"/>
<circle cx="60.35" cy="165.10" r="0.45" fill="none" stroke="#222" stroke-width="0.3" stroke-opacity="0.75"/>
<circle cx="60.97" cy="188.23" r="0.45" fill="none" stroke="#222" stroke-width="0.3" stroke-opacity="0.75"/>
<circle cx="60.18" cy="195.92" r="0.45" fill="none" stroke="#222" stroke-width="0.3" stroke-opacity="0.75"/>
<circle cx="57.57" cy="197.40" r="0.45" fill="none" stroke="#222" stroke-width="0.3" stroke-opacity="0.75"/>
<circle cx="60.69" cy="189.55" r="0.45" fill="none" stroke="#222" stroke-width="0.3" stroke-opacity="0.75"/>
<circle cx="58.73" cy="193.23" r="0.45" fill="none" stroke="#222" stroke-width="0.3" stroke-opacity="0.75"/>
<circle cx="59.04" cy="210.05" r="0.45" fill="none" stroke="#222" stroke-width="0.3" stroke-opacity="0.75"/>
<circle cx="60.96" cy="185.51" r="0.45" fill="none" stroke="#222" stroke-width="0.3" stroke-opacity="0.75"/>
<circle cx="58.86" cy="215.33" r="0.45" fill="none" stroke="#222" stroke-width="0.3" stroke-opacity="0.75"/>
<circle cx="61.68" cy="205.64" r="0.45" fill="none" stroke="#222" stroke-width="0.3" stroke-opacity="0.75"/>
<circle cx="57.91" cy="191.84" r="0.45" fill="none" stroke="#222" stroke-width="0.3" stroke-opacity="0.75"/>
<circle cx="59.76" cy="197.86" r="0.45" fill="none" stroke="#222" stroke-width="0.3" stroke-opacity="0.75"/>
<circle cx="58.88" cy="188.48" r="0.45" fill="none" stroke="#222" stroke-width="0.3" stroke-opacity="0.75"/>
<circle cx="61.66" cy="199.44" r="0.45" fill="none" stroke="#222" stroke-width="0.3" stroke-opacity="0.75"/>
<circle cx="59.91" cy="221.66" r="0.45" fill="none" stroke="#222" stroke-width="0.3" stroke-opacity="0.75"/>
<circle cx="61.38" cy="164.94" r="0.45" fill="none" stroke="#222" stroke-width="0.3" stroke-opacity="0.75"/>
<circle cx="60.85" cy="231.25" r="0.45" fill="none" stroke="#222" stroke-width="0.3" stroke-opacity="0.75"/>
<circle cx="57.24" cy="196.18" r="0.45" fill="none" stroke="#222" stroke-width="0.3" stroke-opacity="0.75"/>
<circle cx="57.05" cy="165.14" r="0.45" fill="none" stroke="#222" stroke-width="0.3" stroke-opacity="0.75"/>
<circle cx="58.47" cy="191.56" r="0.45" fill="none" stroke="#222" stroke-width="0.3" stroke-opacity="0.75"/>
<circle cx="57.49" cy="188.40" r="0.45" fill="none" stroke="#222" stroke-width="0.3" stroke-opacity="0.75"/>
<circle cx="56.83" cy="195.49" r="0.45" fill="none" stroke="#222" stroke-width="0.3" stroke-opacity="0.75"/>
<circle cx="57.47" cy="224.30" r="0.45" fill="none" stroke="#222" stroke-width="0.3" stroke-opacity="0.75"/>
<circle cx="58.59" cy="195.17" r="0.45" fill="none" stroke="#222" stroke-width="0.3" stroke-opacity="0.75"/>
<circle cx="61.86" cy="204.95" r="0.45" fill="none" stroke="#222" stroke-width="0.3" stroke-opacity="0.75"/>
<circle cx="57.15" cy="175.60" r="0.45" fill="none" stroke="#222" stroke-width="0.3" stroke-opacity="0.75"/>
<circle cx="58.08" cy="195.08" r="0.45" fill="none" stroke="#222" stroke-width="0.3" stroke-opacity="0.75"/>
<circle cx="56.82" cy="212.21" r="0.45" fill="none" stroke="#222" stroke-width="0.3" stroke-opacity="0.75"/>
<circle cx="59.52" cy="146.02" r="0.45" fill="none" stroke="#222" stroke-width="0.3" stroke-opacity="0.75"/>
<circle cx="61.79" cy="198.70" r="0.45" fill="none" stroke="#222" stroke-width="0.3" stroke-opacity="0.75"/>
<circle cx="58.06" cy="226.49" r="0.45" fill="none" stroke="#222" stroke-width="0.3" stroke-opacity="0.75"/>
<circle cx="60.71" cy="191.66" r="0.45" fill="none" stroke="#222" stroke-width="0.3" stroke-opacity="0.75"/>
<circle cx="58.41" cy="182.92" r="0.45" fill="none" stroke="#222" stroke-width="0.3" stroke-opacity="0.75"/>
<circle cx="61.82" cy="204.22" r="0.45" fill="none" stroke="#222" stroke-width="0.3" stroke-opacity="0.75"/>
<circle cx="60.96" cy="229.42" r="0.45" fill="none" stroke="#222" stroke-width="0.3" stroke-opacity="0.75"/>
<circle cx="59.39" cy="213.95" r="0.45" fill="none" stroke="#222" stroke-width="0.3" stroke-opacity="0.75"/>
<circle cx="56.85" cy="188.97" r="0.45" fill="none" stroke="#222" stroke-width="0.3" stroke-opacity="0.75"/>
<circle cx="60.30" cy="193.45" r="0.45" fill="none" stroke="#222" stroke-width="0.3" stroke-opacity="0.75"/>
<circle cx="61.84" cy="162.30" r="0.45" fill="none" stroke="#222" stroke-width="0.3" stroke-opacity="0.75"/>
<circle cx="57.88" cy="147.54" r="0.45" fill="none" stroke="#222" stroke-width="0.3" stroke-opacity="0.75"/>
<circle cx="59.95" cy="192.39" r="0.45" fill="none" stroke="#222" stroke-width="0.3" stroke-opacity="0.75"/>
<circle cx="59.19" cy="230.34" r="0.45" fill="none" stroke="#222" stroke-width="0.3" stroke-opacity="0.75"/>
<circle cx="57.14" cy="183.43" r="0.45" fill="none" stroke="#222" stroke-width="0.3" stroke-opacity="0.75"/>
<circle cx="60.77" cy="186.16" r="0.45" fill="none" stroke="#222" stroke-width="0.3" stroke-opacity="0.75"/>
<circle cx="57.63" cy="220.66" r="0.45" fill="none" stroke="#222" stroke-width="0.3" stroke-opacity="0.75"/>
<circle cx="60.86" cy="216.78" r="0.45" fill="none" stroke="#222" stroke-width="0.3" stroke-opacity="0.75"/>
<circle cx="61.62" cy="151.27" r="0.45" fill="none" stroke="#222" stroke-width="0.3" stroke-opacity="0.75"/>
<circle cx="57.36" cy="212.44" r="0.45" fill="none" stroke="#222" stroke-width="0.3" stroke-opacity="0.75"/>
<circle cx="60.89" cy="206.04" r="0.45" fill="none" stroke="#222" stroke-width="0.3" stroke-opacity="0.75"/>
<circle cx="61.80" cy="204.52" r="0.45" fill="none" stroke="#222" stroke-width="0.3" stroke-opacity="0.75"/>
<circle cx="59.55" cy="172.29" r="0.45" fill="none" stroke="#222" stroke-width="0.3" stroke-opacity="0.75"/>
<circle cx="61.75" cy="188.68" r="0.45" fill="none" stroke="#222" stroke-width="0.3" stroke-opacity="0.75"/>
<circle cx="61.55" cy="176.66" r="0.45" fill="none" stroke="#222" stroke-width="0.3" stroke-opacity="0.75"/>
<circle cx="61.00" cy="205.40" r="0.45" fill="none" stroke="#222" stroke-width="0.3" stroke-opacity="0.75"/>
<circle cx="58.22" cy="193.31" r="0.45" fill="none" stroke="#222" stroke-width="0.3" stroke-opacity="0.75"/>
<circle cx="58.05" cy="199.84" r="0.45" fill="none" stroke="#222" stroke-width="0.3" stroke-opacity="0.75"/>
<circle cx="61.43" cy="190.96" r="0.45" fill="none" stroke="#222" stroke-width="0.3" stroke-opacity="0.75"/>
<circle cx="59.73" cy="197.33" r="0.45" fill="none" stroke="#222" stroke-width="0.3" stroke-opacity="0.75"/>
<circle cx="61.47" cy="219.13" r="0.45" fill="none" stroke="#222" stroke-width="0.3" stroke-opacity="0.75"/>
<circle cx="59.42" cy="176.79" r="0.45" fill="none" stroke="#222" stroke-width="0.3" stroke-opacity="0.75"/>
<circle cx="57.65" cy="196.98" r="0.45" fill="none" stroke="#222" stroke-width="0.3" stroke-opacity="0.75"/>
<circle cx="57.60" cy="203.98" r="0.45" fill="none" stroke="#222" stroke-width="0.3" stroke-opacity="0.75"/>
<circle cx="59.59" cy="181.58" r="0.45" fill="none" stroke="#222" stroke-width="0.3" stroke-opacity="0.75"/>
<circle cx="59.59" cy="198.51" r="0.45" fill="none" stroke="#222" stroke-width="0.3" stroke-opacity="0.75"/>
<circle cx="59.61" cy="210.73" r="0.45" fill="none" stroke="#222" stroke-width="0.3" stroke-opacity="0.75"/>
<circle cx="60.72" cy="193.80" r="0.45" fill="none" stroke="#222" stroke-width="0.3" stroke-opacity="0.75"/>
<circle cx="60.65" cy="177.53" r="0.45" fill="none" stroke="#222" stroke-width="0.3" stroke-opacity="0.75"/>
<circle cx="59.33" cy="155.62" r="0.45" fill="none" stroke="#222" stroke-width="0.3" stroke-opacity="0.75"/>
<circle cx="59.05" cy="180.78" r="0.45" fill="none" stroke="#222" stroke-width="0.3" stroke-opacity="0.75"/>
<circle cx="61.60" cy="175.46" r="0.45" fill="none" stroke="#222" stroke-width="0.3" stroke-opacity="0.75"/>
<circle cx="61.60" cy="231.30" r="0.45" fill="none" stroke="#222" stroke-width="0.3" stroke-opacity="0.75"/>
<circle cx="61.60" cy="199.31" r="0.45" fill="none" stroke="#222" stroke-width="0.3" stroke-opacity="0.75"/>
<circle cx="57.33" cy="211.56" r="0.45" fill="none" stroke="#222" stroke-width="0.3" stroke-opacity="0.75"/>
<circle cx="57.95" cy="189.81" r="0.45" fill="none" stroke="#222" stroke-width="0.3" stroke-opacity="0.75"/>
<circle cx="60.78" cy="201.45" r="0.45" fill="none" stroke="#222" stroke-width="0.3" stroke-opacity="0.75"/>
<circle cx="60.42" cy="212.02" r="0.45" fill="none" stroke="#222" stroke-width="0.3" stroke-opacity="0.75"/>
<circle cx="61.29" cy="167.15" r="0.45" fill="none" stroke="#222" stroke-width="0.3" stroke-opacity="0.75"/>
<circle cx="58.77" cy="162.62" r="0.45" fill="none" stroke="#222" stroke-width="0.3" stroke-opacity="0.75"/>
<circle cx="61.03" cy="188.15" r="0.45" fill="none" stroke="#222" stroke-width="0.3" stroke-opacity="0.75"/>
<circle cx="59.38" cy="196.81" r="0.45" fill="none" stroke="#222" stroke-width="0.3" stroke-opacity="0.75"/>
<circle cx="58.36" cy="192.22" r="0.45" fill="none" stroke="#222" stroke-width="0.3" stroke-opacity="0.75"/>
<circle cx="59.58" cy="208.42" r="0.45" fill="none" stroke="#222" stroke-width="0.3" stroke-opacity="0.75"/>
<circle cx="58.42" cy="188.75" r="0.45" fill="none" stroke="#222" stroke-width="0.3" stroke-opacity="0.75"/>
<circle cx="57.03" cy="176.30" r="0.45" fill="none" stroke="#222" stroke-width="0.3" stroke-opacity="0.75"/>
<circle cx="57.24" cy="248.59" r="0.45" fill="none" stroke="#222" stroke-width="0.3" stroke-opacity="0.75"/>
<circle cx="60.75" cy="189.17" r="0.45" fill="none" stroke="#222" stroke-width="0.3" stroke-opacity="0.75"/>
<circle cx="58.90" cy="190.93" r="0.45" fill="none" stroke="#222" stroke-width="0.3" stroke-opacity="0.75"/>
<circle cx="57.48" cy="238.32" r="0.45" fill="none" stroke="#222" stroke-width="0.3" stroke-opacity="0.75"/>
<circle cx="57.17" cy="157.43" r="0.45" fill="none" stroke="#222" stroke-width="0.3" stroke-opacity="0.75"/>
<circle cx="58.91" cy="201.82" r="0.45" fill="none" stroke="#222" stroke-width="0.3" stroke-opacity="0.75"/>
<circle cx="60.00" cy="206.70" r="0.45" fill="none" stroke="#222" stroke-width="0.3" stroke-opacity="0.75"/>
<circle cx="61.15" cy="210.14" r="0.45" fill="none" stroke="#222" stroke-width="0.3" stroke-opacity="0.75"/>
<circle cx="59.06" cy="205.22" r="0.45" fill="none" stroke="#222" stroke-width="0.3" stroke-opacity="0.75"/>
<circle cx="61.52" cy="199.18" r="0.45" fill="none" stroke="#222" stroke-width="0.3" stroke-opacity="0.75"/>
<circle cx="59.44" cy="190.92" r="0.45" fill="none" stroke="#222" stroke-width="0.3" stroke-opacity="0.75"/>
<circle cx="57.54" cy="190.53" r="0.45" fill="none" stroke="#222" stroke-width="0.3" stroke-opacity="0.75"/>
<circle cx="58.32" cy="192.33" r="0.45" fill="none" stroke="#222" stroke-width="0.3" stroke-opacity="0.75"/>
<circle cx="58.21" cy="203.21" r="0.45" fill="none" stroke="#222" stroke-width="0.3" stroke-opacity="0.75"/>
<circle cx="58.50" cy="168.01" r="0.45" fill="none" stroke="#222" stroke-width="0.3" stroke-opacity="0.75"/>
<circle cx="56.78" cy="193.28" r="0.45" fill="none" stroke="#222" stroke-width="0.3" stroke-opacity="0.75"/>
<circle cx="57.69" cy="222.61" r="0.45" fill="none" stroke="#222" stroke-width="0.3" stroke-opacity="0.75"/>
<circle cx="57.25" cy="186.78" r="0.45" fill="none" stroke="#222" stroke-width="0.3" stroke-opacity="0.75"/>
<circle cx="59.27" cy="219.44" r="0.45" fill="none" stroke="#222" stroke-width="0.3" stroke-opacity="0.75"/>
<circle cx="59.33" cy="218.40" r="0.45" fill="none" stroke="#222" stroke-width="0.3" stroke-opacity="0.75"/>
<circle cx="58.48" cy="234.13" r="0.45" fill="none" stroke="#222" stroke-width="0.3" stroke-opacity="0.75"/>
<circle cx="60.01" cy="226.77" r="0.45" fill="none" stroke="#222" stroke-width="0.3" stroke-opacity="0.75"/>
<circle cx="56.98" cy="195.18" r="0.45" fill="none" stroke="#222" stroke-width="0.3" stroke-opacity="0.75"/>
<circle cx="60.55" cy="189.78" r="0.45" fill="none" stroke="#222" stroke-width="0.3" stroke-opacity="0.75"/>
<circle cx="57.14" cy="191.58" r="0.45" fill="none" stroke="#222" stroke-width="0.3" stroke-opacity="0.75"/>
<circle cx="60.19" cy="231.14" r="0.45" fill="none" stroke="#222" stroke-width="0.3" stroke-opacity="0.75"/>
<circle cx="58.22" cy="193.12" r="0.45" fill="none" stroke="#222" stroke-width="0.3" stroke-opacity="0.75"/>
<circle cx="59.02" cy="167.51" r="0.45" fill="none" stroke="#222" stroke-width="0.3" stroke-opacity="0.75"/>
<circle cx="61.76" cy="207.15" r="0.45" fill="none" stroke="#222" stroke-width="0.3" stroke-opacity="0.75"/>
<circle cx="61.72" cy="169.66" r="0.45" fill="none" stroke="#222" stroke-width="0.3" stroke-opacity="0.75"/>
<circle cx="56.71" cy="195.35" r="0.45" fill="none" stroke="#222" stroke-width="0.3" stroke-opacity="0.75"/>
<circle cx="59.31" cy="197.66" r="0.45" fill="none" stroke="#222" stroke-width="0.3" stroke-opacity="0.75"/>
<circle cx="56.73" cy="198.24" r="0.45" fill="none" stroke="#222" stroke-width="0.3" stroke-opacity="0.75"/>
<circle cx="58.78" cy="190.15" r="0.45" fill="none" stroke="#222" stroke-width="0.3" stroke-opacity="0.75"/>
<circle cx="58.28" cy="188.84" r="0.45" fill="none" stroke="#222" stroke-width="0.3" stroke-opacity="0.75"/>
<circle cx="59.45" cy="199.82" r="0.45" fill="none" stroke="#222" stroke-width="0.3" stroke-opacity="0.75"/>
<circle cx="60.42" cy="225.46" r="0.45" fill="none" stroke="#222" stroke-width="0.3" stroke-opacity="0.75"/>
<circle cx="58.40" cy="218.30" r="0.45" fill="none" stroke="#222" stroke-width="0.3" stroke-opacity="0.75"/>
<circle cx="60.04" cy="157.92" r="0.45" fill="none" stroke="#222" stroke-width="0.3" stroke-opacity="0.75"/>
<circle cx="61.34" cy="204.69" r="0.45" fill="none" stroke="#222" stroke-width="0.3" stroke-opacity="0.75"/>
<circle cx="60.92" cy="181.80" r="0.45" fill="none" stroke="#222" stroke-width="0.3" stroke-opacity="0.75"/>
<circle cx="59.32" cy="198.61" r="0.45" fill="none" stroke="#222" stroke-width="0.3" stroke-opacity="0.75"/>
<circle cx="61.00" cy="229.38" r="0.45" fill="none" stroke="#222" stroke-width="0.3" stroke-opacity="0.75"/>
<circle cx="81.65" cy="236.05" r="0.45" fill="none" stroke="#222" stroke-width="0.3" stroke-opacity="0.75"/>
<circle cx="78.26" cy="243.27" r="0.45" fill="none" stroke="#222" stroke-width="0.3" stroke-opacity="0.75"/>
<circle cx="78.65" cy="238.96" r="0.45" fill="none" stroke="#222" stroke-width="0.3" stroke-opacity="0.75"/>
<circle cx="81.36" cy="244.22" r="0.45" fill="none" stroke="#222" stroke-width="0.3" stroke-opacity="0.75"/>
<circle cx="80.64" cy="234.38" r="0.45" fill="none" stroke="#222" stroke-width="0.3" stroke-opacity="0.75"/>
<circle cx="81.99" cy="241.45" r="0.45" fill="none" stroke="#222" stroke-width="0.3" stroke-opacity="0.75"/>
<circle cx="81.53" cy="233.23" r="0.45" fill="none" stroke="#222" stroke-width="0.3" stroke-opacity="0.75"/>
<circle cx="79.41" cy="241.10" r="0.45" fill="none" stroke="#222" stroke-width="0.3" stroke-opacity="0.75"/>
<circle cx="81.89" cy="238.41" r="0.45" fill="none" stroke="#222" stroke-width="0.3" stroke-opacity="0.75"/>
<circle cx="83.17" cy="241.12" r="0.45" fill="none" stroke="#222" stroke-width="0.3" stroke-opacity="0.75"/>
<circle cx="80.59" cy="232.02" r="0.45" fill="none" stroke="#222" stroke-width="0.3" stroke-opacity="0.75"/>
<circle cx="81.31" cy="244.82" r="0.45" fill="none" stroke="#222" stroke-width="0.3" stroke-opacity="0.75"/>
<circle cx="78.87" cy="229.61" r="0.45" fill="none" stroke="#222" stroke-width="0.3" stroke-opacity="0.75"/>
<circle cx="79.68" cy="241.14" r="0.45" fill="none" stroke="#222" stroke-width="0.3" stroke-opacity="0.75"/>
<circle cx="78.42" cy="229.10" r="0.45" fill="none" stroke="#222" stroke-width="0.3" stroke-opacity="0.75"/>
<circle cx="81.70" cy="240.73" r="0.45" fill="none" stroke="#222" stroke-width="0.3" stroke-opacity="0.75"/>
<circle cx="80.79" cy="231.30" r="0.45" fill="none" stroke="#222" stroke-width="0.3" stroke-opacity="0.75"/>
<circle cx="78.72" cy="232.68" r="0.45" fill="none" stroke="#222" stroke-width="0.3" stroke-opacity="0.75"/>
<circle cx="83.19" cy="243.18" r="0.45" fill="none" stroke="#222" stroke-width="0.3" stroke-opacity="0.75"/>
<circle cx="82.36" cy="220.34" r="0.45" fill="none" stroke="#222" stroke-width="0.3" stroke-opacity="0.75"/>
<circle cx="79.19" cy="217.30" r="0.45" fill="none" stroke="#222" stroke-width="0.3" stroke-opacity="0.75"/>
<circle cx="78.84" cy="222.30" r="0.45" fill="none" stroke="#222" stroke-width="0.3" stroke-opacity="0.75"/>
<circle cx="78.79" cy="236.53" r="0.45" fill="none" stroke="#222" stroke-width="0.3" stroke-opacity="0.75"/>
<circle cx="82.71" cy="244.08" r="0.45" fill="none" stroke="#222" stroke-width="0.3" stroke-opacity="0.75"/>
<circle cx="82.77" cy="243.27" r="0.45" fill="none" stroke="#222" stroke-width="0.3" stroke-opacity="0.75"/>
<circle cx="78.12" cy="229.20" r="0.45" fill="none" stroke="#222" stroke-width="0.3" stroke-opacity="0.75"/>
<circle cx="79.67" cy="232.56" r="0.45" fill="none" stroke="#222" stroke-width="0.3" stroke-opacity="0.75"/>
<circle cx="79.74" cy="238.86" r="0.45" fill="none" stroke="#222" stroke-width="0.3" stroke-opacity="0.75"/>
<circle cx="82.00" cy="242.61" r="0.45" fill="none" stroke="#222" stroke-width="0.3" stroke-opacity="0.75"/>
<circle cx="82.92" cy="242.95" r="0.45" fill="none" stroke="#222" stroke-width="0.3" stroke-opacity="0.75"/>
<circle cx="79.61" cy="245.21" r="0.45" fill="none" stroke="#222" stroke-width="0.3" stroke-opacity="0.75"/>
<circle cx="83.29" cy="239.14" r="0.45" fill="none" stroke="#222" stroke-width="0.3" stroke-opacity="0.75"/>
<circle cx="80.33" cy="231.85" r="0.45" fill="none" stroke="#222" stroke-width="0.3" stroke-opacity="0.75"/>
<circle cx="78.63" cy="237.18" r="0.45" fill="none" stroke="#222" stroke-width="0.3" stroke-opacity="0.75"/>
<circle cx="82.97" cy="243.43" r="0.45" fill="none" stroke="#222" stroke-width="0.3" stroke-opacity="0.75"/>
<circle cx="80.76" cy="238.41" r="0.45" fill="none" stroke="#222" stroke-width="0.3" stroke-opacity="0.75"/>
<circle cx="83.07" cy="239.03" r="0.45" fill="none" stroke="#222" stroke-width="0.3" stroke-opacity="0.75"/>
<circle cx="81.38" cy="244.95" r="0.45" fill="none" stroke="#222" stroke-width="0.3" stroke-opacity="0.75"/>
<circle cx="81.84" cy="246.87" r="0.45" fill="none" stroke="#222" stroke-width="0.3" stroke-opacity="0.75"/>
<circle cx="80.44" cy="241.07" r="0.45" fill="none" stroke="#222" stroke-width="0.3" stroke-opacity="0.75"/>
<circle cx="79.59" cy="244.47" r="0.45" fill="none" stroke="#222" stroke-width="0.3" stroke-opacity="0.75"/>
<circle cx="78.76" cy="242.18" r="0.45" fill="none" stroke="#222" stroke-width="0.3" stroke-opacity="0.75"/>
<circle cx="79.65" cy="231.71" r="0.45" fill="none" stroke="#222" stroke-width="0.3" stroke-opacity="0.75"/>
<circle cx="79.45" cy="245.43" r="0.45" fill="none" stroke="#222" stroke-width="0.3" stroke-opacity="0.75"/>
<circle cx="81.00" cy="231.38" r="0.45" fill="none" stroke="#222" stroke-width="0.3" stroke-opacity="0.75"/>
<circle cx="78.94" cy="237.85" r="0.45" fill="none" stroke="#222" stroke-width="0.3" stroke-opacity="0.75"/>
<circle cx="80.68" cy="242.06" r="0.45" fill="none" stroke="#222" stroke-width="0.3" stroke-opacity="0.75"/>
<circle cx="83.28" cy="242.07" r="0.45" fill="none" stroke="#222" stroke-width="0.3" stroke-opacity="0.75"/>
<circle cx="79.10" cy="237.70" r="0.45" fill="none" stroke="#222" stroke-width="0.3" stroke-opacity="0.75"/>
<circle cx="78.57" cy="238.85" r="0.45" fill="none" stroke="#222" stroke-width="0.3" stroke-opacity="0.75"/>
<circle cx="81.06" cy="238.37" r="0.45" fill="none" stroke="#222" stroke-width="0.3" stroke-opacity="0.75"/>
<circle cx="80.25" cy="244.77" r="0.45" fill="none" stroke="#222" stroke-width="0.3" stroke-opacity="0.75"/>
<circle cx="80.06" cy="239.89" r="0.45" fill="none" stroke="#222" stroke-width="0.3" stroke-opacity="0.75"/>
<circle cx="79.54" cy="237.25" r="0.45" fill="none" stroke="#222" stroke-width="0.3" stroke-opacity="0.75"/>
<circle cx="81.37" cy="221.05" r="0.45" fill="none" stroke="#222" stroke-width="0.3" stroke-opacity="0.75"/>
<circle cx="79.51" cy="243.23" r="0.45" fill="none" stroke="#222" stroke-width="0.3" stroke-opacity="0.75"/>
<circle cx="80.42" cy="239.18" r="0.45" fill="none" stroke="#222" stroke-width="0.3" stroke-opacity="0.75"/>
<circle cx="78.21" cy="226.97" r="0.45" fill="none" stroke="#222" stroke-width="0.3" stroke-opacity="0.75"/>
<circle cx="82.76" cy="240.94" r="0.45" fill="none" stroke="#222" stroke-width="0.3" stroke-opacity="0.75"/>
<circle cx="78.10" cy="233.64" r="0.45" fill="none" stroke="#222" stroke-width="0.3" stroke-opacity="0.75"/>
<circle cx="82.39" cy="242.18" r="0.45" fill="none" stroke="#222" stroke-width="0.3" stroke-opacity="0.75"/>
<circle cx="79.39" cy="245.42" r="0.45" fill="none" stroke="#222" stroke-width="0.3" stroke-opacity="0.75"/>
<circle cx="80.82" cy="237.78" r="0.45" fill="none" stroke="#222" stroke-width="0.3" stroke-opacity="0.75"/>
<circle cx="81.85" cy="245.33" r="0.45" fill="none" stroke="#222" stroke-width="0.3" stroke-opacity="0.75"/>
<circle cx="80.48" cy="235.04" r="0.45" fill="none" stroke="#222" stroke-width="0.3" stroke-opacity="0.75"/>
<circle cx="82.17" cy="229.31" r="0.45" fill="none" stroke="#222" stroke-width="0.3" stroke-opacity="0.75"/>
<circle cx="81.46" cy="242.14" r="0.45" fill="none" stroke="#222" stroke-width="0.3" stroke-opacity="0.75"/>
<circle cx="79.41" cy="237.63" r="0.45" fill="none" stroke="#222" stroke-width="0.3" stroke-opacity="0.75"/>
<circle cx="78.68" cy="234.52" r="0.45" fill="none" stroke="#222" stroke-width="0.3" stroke-opacity="0.75"/>
<circle cx="81.13" cy="239.89" r="0.45" fill="none" stroke="#222" stroke-width="0.3" stroke-opacity="0.75"/>
<circle cx="81.23" cy="238.17" r="0.45" fill="none" stroke="#222" stroke-width="0.3" stroke-opacity="0.75"/>
<circle cx="80.50" cy="238.62" r="0.45" fill="none" stroke="#222" stroke-width="0.3" stroke-opacity="0.75"/>
<circle cx="80.57" cy="227.14" r="0.45" fill="none" stroke="#222" stroke-width="0.3" stroke-opacity="0.75"/>
<circle cx="83.10" cy="238.31" r="0.45" fill="none" stroke="#222" stroke-width="0.3" stroke-opacity="0.75"/>
<circle cx="78.21" cy="243.49" r="0.45" fill="none" stroke="#222" stroke-width="0.3" stroke-opacity="0.75"/>
<circle cx="80.28" cy="234.33" r="0.45" fill="none" stroke="#222" stroke-width="0.3" stroke-opacity="0.75"/>
<circle cx="82.91" cy="240.70" r="0.45" fill="none" stroke="#222" stroke-width="0.3" stroke-opacity="0.75"/>
<circle cx="79.86" cy="237.09" r="0.45" fill="none" stroke="#222" stroke-width="0.3" stroke-opacity="0.75"/>
<circle cx="79.13" cy="240.79" r="0.45" fill="none" stroke="#222" stroke-width="0.3" stroke-opacity="0.75"/>
<circle cx="80.73" cy="244.74" r="0.45" fill="none" stroke="#222" stroke-width="0.3" stroke-opacity="0.75"/>
<circle cx="79.72" cy="242.43" r="0.45" fill="none" stroke="#222" stroke-width="0.3" stroke-opacity="0.75"/>
<circle cx="79.25" cy="243.27" r="0.45" fill="none" stroke="#222" stroke-width="0.3" stroke-opacity="0.75"/>
<circle cx="83.05" cy="243.46" r="0.45" fill="none" stroke="#222" stroke-width="0.3" stroke-opacity="0.75"/>
<circle cx="79.26" cy="230.48" r="0.45" fill="none" stroke="#222" stroke-width="0.3" stroke-opacity="0.75"/>
<circle cx="83.03" cy="240.69" r="0.45" fill="none" stroke="#222" stroke-width="0.3" stroke-opacity="0.75"/>
<circle cx="79.21" cy="239.14" r="0.45" fill="none" stroke="#222" stroke-width="0.3" stroke-opacity="0.75"/>
<circle cx="78.41" cy="213.83" r="0.45" fill="none" stroke="#222" stroke-width="0.3" stroke-opacity="0.75"/>
<circle cx="82.69" cy="242.02" r="0.45" fill="none" stroke="#222" stroke-width="0.3" stroke-opacity="0.75"/>
<circle cx="82.94" cy="245.49" r="0.45" fill="none" stroke="#222" stroke-width="0.3" stroke-opacity="0.75"/>
<circle cx="82.97" cy="237.96" r="0.45" fill="none" stroke="#222" stroke-width="0.3" stroke-opacity="0.75"/>
<circle cx="81.56" cy="242.69" r="0.45" fill="none" stroke="#222" stroke-width="0.3" stroke-opacity="0.75"/>
<circle cx="79.82" cy="239.03" r="0.45" fill="none" stroke="#222" stroke-width="0.3" stroke-opacity="0.75"/>
<circle cx="79.55" cy="236.92" r="0.45" fill="none" stroke="#222" stroke-width="0.3" stroke-opacity="0.75"/>
<circle cx="78.74" cy="242.35" r="0.45" fill="none" stroke="#222" stroke-width="0.3" stroke-opacity="0.75"/>
<circle cx="82.37" cy="218.71" r="0.45" fill="none" stroke="#222" stroke-width="0.3" stroke-opacity="0.75"/>
<circle cx="78.36" cy="243.85" r="0.45" fill="none" stroke="#222" stroke-width="0.3" stroke-opacity="0.75"/>
<circle cx="82.88" cy="231.94" r="0.45" fill="none" stroke="#222" stroke-width="0.3" stroke-opacity="0.75"/>
<circle cx="82.76" cy="238.98" r="0.45" fill="none" stroke="#222" stroke-width="0.3" stroke-opacity="0.75"/>
<circle cx="82.32" cy="239.24" r="0.45" fill="none" stroke="#222" stroke-width="0.3" stroke-opacity="0.75"/>
<circle cx="78.28" cy="242.72" r="0.45" fill="none" stroke="#222" stroke-width="0.3" stroke-opacity="0.75"/>
<circle cx="79.44" cy="242.14" r="0.45" fill="none" stroke="#222" stroke-width="0.3" stroke-opacity="0.75"/>
<circle cx="79.86" cy="245.21" r="0.45" fill="none" stroke="#222" stroke-width="0.3" stroke-opacity="0.75"/>
<circle cx="81.31" cy="242.36" r="0.45" fill="none" stroke="#222" stroke-width="0.3" stroke-opacity="0.75"/>
<circle cx="79.75" cy="240.98" r="0.45" fill="none" stroke="#222" stroke-width="0.3" stroke-opacity="0.75"/>
<circle cx="82.03" cy="236.92" r="0.45" fill="none" stroke="#222" stroke-width="0.3" stroke-opacity="0.75"/>
<circle cx="78.23" cy="228.09" r="0.45" fill="none" stroke="#222" stroke-width="0.3" stroke-opacity="0.75"/>
<circle cx="83.08" cy="239.61" r="0.45" fill="none" stroke="#222" stroke-width="0.3" stroke-opacity="0.75"/>
<circle cx="80.34" cy="217.02" r="0.45" fill="none" stroke="#222" stroke-width="0.3" stroke-opacity="0.75"/>
<circle cx="79.05" cy="236.33" r="0.45" fill="none" stroke="#222" stroke-width="0.3" stroke-opacity="0.75"/>
<circle cx="82.38" cy="244.74" r="0.45" fill="none" stroke="#222" stroke-width="0.3" stroke-opacity="0.75"/>
<circle cx="79.80" cy="244.36" r="0.45" fill="none" stroke="#222" stroke-width="0.3" stroke-opacity="0.75"/>
<circle cx="82.17" cy="238.96" r="0.45" fill="none" stroke="#222" stroke-width="0.3" stroke-opacity="0.75"/>
<circle cx="82.02" cy="238.02" r="0.45" fill="none" stroke="#222" stroke-width="0.3" stroke-opacity="0.75"/>
<circle cx="78.28" cy="237.27" r="0.45" fill="none" stroke="#222" stroke-width="0.3" stroke-opacity="0.75"/>
<circle cx="83.20" cy="231.57" r="0.45" fill="none" stroke="#222" stroke-width="0.3" stroke-opacity="0.75"/>
<circle cx="79.48" cy="245.46" r="0.45" fill="none" stroke="#222" stroke-width="0.3" stroke-opacity="0.75"/>
<circle cx="80.69" cy="237.45" r="0.45" fill="none" stroke="#222" stroke-width="0.3" stroke-opacity="0.75"/>
<circle cx="79.32" cy="243.90" r="0.45" fill="none" stroke="#222" stroke-width="0.3" stroke-opacity="0.75"/>
<circle cx="81.61" cy="240.44" r="0.45" fill="none" stroke="#222" stroke-width="0.3" stroke-opacity="0.75"/>
<circle cx="81.56" cy="245.06" r="0.45" fill="none" stroke="#222" stroke-width="0.3" stroke-opacity="0.75"/>
<circle cx="79.63" cy="241.69" r="0.45" fill="none" stroke="#222" stroke-width="0.3" stroke-opacity="0.75"/>
<circle cx="81.94" cy="231.95" r="0.45" fill="none" stroke="#222" stroke-width="0.3" stroke-opacity="0.75"/>
<circle cx="79.38" cy="238.31" r="0.45" fill="none" stroke="#222" stroke-width="0.3" stroke-opacity="0.75"/>
<circle cx="81.11" cy="241.94" r="0.45" fill="none" stroke="#222" stroke-width="0.3" stroke-opacity="0.75"/>
<circle cx="83.26" cy="239.16" r="0.45" fill="none" stroke="#222" stroke-width="0.3" stroke-opacity="0.75"/>
<circle cx="82.30" cy="230.83" r="0.45" fill="none" stroke="#222" stroke-width="0.3" stroke-opacity="0.75"/>
<circle cx="78.63" cy="236.83" r="0.45" fill="none" stroke="#222" stroke-width="0.3" stroke-opacity="0.75"/>
<circle cx="82.47" cy="235.47" r="0.45" fill="none" stroke="#222" stroke-width="0.3" stroke-opacity="0.75"/>
<circle cx="78.72" cy="217.70" r="0.45" fill="none" stroke="#222" stroke-width="0.3" stroke-opacity="0.75"/>
<circle cx="81.13" cy="242.45" r="0.45" fill="none" stroke="#222" stroke-width="0.3" stroke-opacity="0.75"/>
<circle cx="80.44" cy="226.86" r="0.45" fill="none" stroke="#222" stroke-width="0.3" stroke-opacity="0.75"/>
<circle cx="83.02" cy="241.33" r="0.45" fill="none" stroke="#222" stroke-width="0.3" stroke-opacity="0.75"/>
<circle cx="81.32" cy="240.30" r="0.45" fill="none" stroke="#222" stroke-width="0.3" stroke-opacity="0.75"/>
<circle cx="78.84" cy="239.00" r="0.45" fill="none" stroke="#222" stroke-width="0.3" stroke-opacity="0.75"/>
<circle cx="81.22" cy="238.35" r="0.45" fill="none" stroke="#222" stroke-width="0.3" stroke-opacity="0.75"/>
<circle cx="78.16" cy="230.61" r="0.45" fill="none" stroke="#222" stroke-width="0.3" stroke-opacity="0.75"/>
<circle cx="79.06" cy="240.77" r="0.45" fill="none" stroke="#222" stroke-width="0.3" stroke-opacity="0.75"/>
<circle cx="82.24" cy="238.06" r="0.45" fill="none" stroke="#222" stroke-width="0.3" stroke-opacity="0.75"/>
<circle cx="78.63" cy="229.50" r="0.45" fill="none" stroke="#222" stroke-width="0.3" stroke-opacity="0.75"/>
<circle cx="81.42" cy="240.04" r="0.45" fill="none" stroke="#222" stroke-width="0.3" stroke-opacity="0.75"/>
<polyline points="59.2,143.3 59.2,141.3 80.6,141.3 80.6,208.3" fill="none" stroke="#999" stroke-width="0.8"/>
<rect x="68.9" y="140.3" width="2" height="2" fill="#ff2020"/>
<rect x="35" y="136.4" width="70.5" height="118.19999999999999" fill="none" stroke="#333" stroke-width="1.3"/>
<text transform="translate(18.4,202.20000000000002) rotate(-90)" class="t6" text-anchor="middle">Expression-log<tspan font-size="4" dy="1.5">2</tspan><tspan dy="-1.5">(TPM+1)</tspan></text>
<text x="70.5" y="263.4" class="t63" text-anchor="middle">(num(T) = 179,num(N) = 171)</text>
<text x="70.5" y="273.1" class="t63" text-anchor="middle">FOXM1</text>
<text x="270.6" y="139" class="pl">D</text>
<text x="344.4" y="131.7" class="t6" text-anchor="middle" style="font-size:7.1px">PAAD</text>
<line x1="306.3" y1="250.00" x2="309.3" y2="250.00" stroke="#333" stroke-width="0.8"/>
<text x="303.2" y="252.40" class="tk" text-anchor="end">0</text>
<line x1="306.3" y1="230.50" x2="309.3" y2="230.50" stroke="#333" stroke-width="0.8"/>
<text x="303.2" y="232.90" class="tk" text-anchor="end">1</text>
<line x1="306.3" y1="211.00" x2="309.3" y2="211.00" stroke="#333" stroke-width="0.8"/>
<text x="303.2" y="213.40" class="tk" text-anchor="end">2</text>
<line x1="306.3" y1="191.50" x2="309.3" y2="191.50" stroke="#333" stroke-width="0.8"/>
<text x="303.2" y="193.90" class="tk" text-anchor="end">3</text>
<line x1="306.3" y1="172.00" x2="309.3" y2="172.00" stroke="#333" stroke-width="0.8"/>
<text x="303.2" y="174.40" class="tk" text-anchor="end">4</text>
<line x1="306.3" y1="152.50" x2="309.3" y2="152.50" stroke="#333" stroke-width="0.8"/>
<text x="303.2" y="154.90" class="tk" text-anchor="end">5</text>
<line x1="333.5" y1="145.9" x2="333.5" y2="195.3" stroke="#222" stroke-width="0.6"/>
<line x1="329.0" y1="145.9" x2="338.0" y2="145.9" stroke="#222" stroke-width="0.7"/>
<line x1="329.0" y1="195.3" x2="338.0" y2="195.3" stroke="#222" stroke-width="0.7"/>
<rect x="325.35" y="159.3" width="16.3" height="15.0" fill="#ff0000" stroke="#222" stroke-width="0.5"/>
<line x1="325.35" y1="166.3" x2="341.65" y2="166.3" stroke="#000" stroke-width="0.9"/>
<line x1="325.35" y1="250.00" x2="341.65" y2="250.00" stroke="#555" stroke-width="1.6"/>
<line x1="355" y1="179.2" x2="355" y2="214.1" stroke="#222" stroke-width="0.6"/>
<line x1="350.5" y1="179.2" x2="359.5" y2="179.2" stroke="#222" stroke-width="0.7"/>
<line x1="350.5" y1="214.1" x2="359.5" y2="214.1" stroke="#222" stroke-width="0.7"/>
<rect x="346.45" y="193.3" width="17.1" height="9.599999999999994" fill="#0000ff" stroke="#222" stroke-width="0.5"/>
<line x1="346.45" y1="199.6" x2="363.55" y2="199.6" stroke="#000" stroke-width="0.9"/>
<line x1="346.45" y1="250.00" x2="363.55" y2="250.00" stroke="#555" stroke-width="1.6"/>
<circle cx="334.52" cy="161.76" r="0.45" fill="none" stroke="#222" stroke-width="0.3" stroke-opacity="0.75"/>
<circle cx="332.50" cy="163.55" r="0.45" fill="none" stroke="#222" stroke-width="0.3" stroke-opacity="0.75"/>
<circle cx="332.76" cy="203.63" r="0.45" fill="none" stroke="#222" stroke-width="0.3" stroke-opacity="0.75"/>
<circle cx="336.08" cy="172.26" r="0.45" fill="none" stroke="#222" stroke-width="0.3" stroke-opacity="0.75"/>
<circle cx="334.69" cy="162.26" r="0.45" fill="none" stroke="#222" stroke-width="0.3" stroke-opacity="0.75"/>
<circle cx="335.59" cy="159.39" r="0.45" fill="none" stroke="#222" stroke-width="0.3" stroke-opacity="0.75"/>
<circle cx="333.01" cy="171.61" r="0.45" fill="none" stroke="#222" stroke-width="0.3" stroke-opacity="0.75"/>
<circle cx="331.75" cy="183.98" r="0.45" fill="none" stroke="#222" stroke-width="0.3" stroke-opacity="0.75"/>
<circle cx="334.23" cy="167.57" r="0.45" fill="none" stroke="#222" stroke-width="0.3" stroke-opacity="0.75"/>
<circle cx="334.14" cy="176.17" r="0.45" fill="none" stroke="#222" stroke-width="0.3" stroke-opacity="0.75"/>
<circle cx="331.66" cy="166.87" r="0.45" fill="none" stroke="#222" stroke-width="0.3" stroke-opacity="0.75"/>
<circle cx="335.71" cy="167.12" r="0.45" fill="none" stroke="#222" stroke-width="0.3" stroke-opacity="0.75"/>
<circle cx="335.09" cy="166.66" r="0.45" fill="none" stroke="#222" stroke-width="0.3" stroke-opacity="0.75"/>
<circle cx="335.80" cy="197.16" r="0.45" fill="none" stroke="#222" stroke-width="0.3" stroke-opacity="0.75"/>
<circle cx="335.72" cy="196.08" r="0.45" fill="none" stroke="#222" stroke-width="0.3" stroke-opacity="0.75"/>
<circle cx="334.13" cy="172.86" r="0.45" fill="none" stroke="#222" stroke-width="0.3" stroke-opacity="0.75"/>
<circle cx="334.99" cy="177.67" r="0.45" fill="none" stroke="#222" stroke-width="0.3" stroke-opacity="0.75"/>
<circle cx="335.30" cy="165.37" r="0.45" fill="none" stroke="#222" stroke-width="0.3" stroke-opacity="0.75"/>
<circle cx="332.03" cy="178.14" r="0.45" fill="none" stroke="#222" stroke-width="0.3" stroke-opacity="0.75"/>
<circle cx="332.89" cy="167.07" r="0.45" fill="none" stroke="#222" stroke-width="0.3" stroke-opacity="0.75"/>
<circle cx="334.67" cy="163.01" r="0.45" fill="none" stroke="#222" stroke-width="0.3" stroke-opacity="0.75"/>
<circle cx="333.82" cy="175.16" r="0.45" fill="none" stroke="#222" stroke-width="0.3" stroke-opacity="0.75"/>
<circle cx="335.26" cy="175.10" r="0.45" fill="none" stroke="#222" stroke-width="0.3" stroke-opacity="0.75"/>
<circle cx="333.76" cy="168.29" r="0.45" fill="none" stroke="#222" stroke-width="0.3" stroke-opacity="0.75"/>
<circle cx="333.08" cy="150.00" r="0.45" fill="none" stroke="#222" stroke-width="0.3" stroke-opacity="0.75"/>
<circle cx="334.33" cy="151.60" r="0.45" fill="none" stroke="#222" stroke-width="0.3" stroke-opacity="0.75"/>
<circle cx="331.02" cy="165.88" r="0.45" fill="none" stroke="#222" stroke-width="0.3" stroke-opacity="0.75"/>
<circle cx="332.12" cy="152.46" r="0.45" fill="none" stroke="#222" stroke-width="0.3" stroke-opacity="0.75"/>
<circle cx="333.28" cy="190.68" r="0.45" fill="none" stroke="#222" stroke-width="0.3" stroke-opacity="0.75"/>
<circle cx="331.46" cy="166.40" r="0.45" fill="none" stroke="#222" stroke-width="0.3" stroke-opacity="0.75"/>
<circle cx="331.38" cy="165.76" r="0.45" fill="none" stroke="#222" stroke-width="0.3" stroke-opacity="0.75"/>
<circle cx="331.11" cy="166.95" r="0.45" fill="none" stroke="#222" stroke-width="0.3" stroke-opacity="0.75"/>
<circle cx="334.71" cy="147.00" r="0.45" fill="none" stroke="#222" stroke-width="0.3" stroke-opacity="0.75"/>
<circle cx="331.18" cy="185.04" r="0.45" fill="none" stroke="#222" stroke-width="0.3" stroke-opacity="0.75"/>
<circle cx="335.84" cy="150.96" r="0.45" fill="none" stroke="#222" stroke-width="0.3" stroke-opacity="0.75"/>
<circle cx="336.08" cy="172.16" r="0.45" fill="none" stroke="#222" stroke-width="0.3" stroke-opacity="0.75"/>
<circle cx="331.91" cy="191.41" r="0.45" fill="none" stroke="#222" stroke-width="0.3" stroke-opacity="0.75"/>
<circle cx="335.66" cy="209.36" r="0.45" fill="none" stroke="#222" stroke-width="0.3" stroke-opacity="0.75"/>
<circle cx="335.74" cy="171.13" r="0.45" fill="none" stroke="#222" stroke-width="0.3" stroke-opacity="0.75"/>
<circle cx="334.83" cy="164.56" r="0.45" fill="none" stroke="#222" stroke-width="0.3" stroke-opacity="0.75"/>
<circle cx="332.33" cy="172.75" r="0.45" fill="none" stroke="#222" stroke-width="0.3" stroke-opacity="0.75"/>
<circle cx="333.51" cy="177.32" r="0.45" fill="none" stroke="#222" stroke-width="0.3" stroke-opacity="0.75"/>
<circle cx="333.53" cy="199.16" r="0.45" fill="none" stroke="#222" stroke-width="0.3" stroke-opacity="0.75"/>
<circle cx="331.85" cy="159.85" r="0.45" fill="none" stroke="#222" stroke-width="0.3" stroke-opacity="0.75"/>
<circle cx="334.43" cy="173.35" r="0.45" fill="none" stroke="#222" stroke-width="0.3" stroke-opacity="0.75"/>
<circle cx="334.98" cy="177.84" r="0.45" fill="none" stroke="#222" stroke-width="0.3" stroke-opacity="0.75"/>
<circle cx="334.21" cy="167.26" r="0.45" fill="none" stroke="#222" stroke-width="0.3" stroke-opacity="0.75"/>
<circle cx="333.79" cy="172.39" r="0.45" fill="none" stroke="#222" stroke-width="0.3" stroke-opacity="0.75"/>
<circle cx="331.44" cy="157.73" r="0.45" fill="none" stroke="#222" stroke-width="0.3" stroke-opacity="0.75"/>
<circle cx="335.05" cy="201.10" r="0.45" fill="none" stroke="#222" stroke-width="0.3" stroke-opacity="0.75"/>
<circle cx="333.90" cy="174.16" r="0.45" fill="none" stroke="#222" stroke-width="0.3" stroke-opacity="0.75"/>
<circle cx="333.20" cy="170.77" r="0.45" fill="none" stroke="#222" stroke-width="0.3" stroke-opacity="0.75"/>
<circle cx="331.15" cy="170.45" r="0.45" fill="none" stroke="#222" stroke-width="0.3" stroke-opacity="0.75"/>
<circle cx="334.22" cy="179.63" r="0.45" fill="none" stroke="#222" stroke-width="0.3" stroke-opacity="0.75"/>
<circle cx="332.53" cy="205.06" r="0.45" fill="none" stroke="#222" stroke-width="0.3" stroke-opacity="0.75"/>
<circle cx="331.68" cy="159.81" r="0.45" fill="none" stroke="#222" stroke-width="0.3" stroke-opacity="0.75"/>
<circle cx="333.57" cy="151.69" r="0.45" fill="none" stroke="#222" stroke-width="0.3" stroke-opacity="0.75"/>
<circle cx="332.08" cy="177.07" r="0.45" fill="none" stroke="#222" stroke-width="0.3" stroke-opacity="0.75"/>
<circle cx="330.91" cy="146.20" r="0.45" fill="none" stroke="#222" stroke-width="0.3" stroke-opacity="0.75"/>
<circle cx="332.76" cy="160.90" r="0.45" fill="none" stroke="#222" stroke-width="0.3" stroke-opacity="0.75"/>
<circle cx="333.96" cy="168.05" r="0.45" fill="none" stroke="#222" stroke-width="0.3" stroke-opacity="0.75"/>
<circle cx="333.37" cy="168.66" r="0.45" fill="none" stroke="#222" stroke-width="0.3" stroke-opacity="0.75"/>
<circle cx="332.17" cy="173.35" r="0.45" fill="none" stroke="#222" stroke-width="0.3" stroke-opacity="0.75"/>
<circle cx="334.22" cy="160.74" r="0.45" fill="none" stroke="#222" stroke-width="0.3" stroke-opacity="0.75"/>
<circle cx="332.99" cy="190.73" r="0.45" fill="none" stroke="#222" stroke-width="0.3" stroke-opacity="0.75"/>
<circle cx="334.25" cy="159.47" r="0.45" fill="none" stroke="#222" stroke-width="0.3" stroke-opacity="0.75"/>
<circle cx="334.26" cy="150.59" r="0.45" fill="none" stroke="#222" stroke-width="0.3" stroke-opacity="0.75"/>
<circle cx="334.71" cy="173.36" r="0.45" fill="none" stroke="#222" stroke-width="0.3" stroke-opacity="0.75"/>
<circle cx="331.13" cy="172.85" r="0.45" fill="none" stroke="#222" stroke-width="0.3" stroke-opacity="0.75"/>
<circle cx="332.14" cy="151.34" r="0.45" fill="none" stroke="#222" stroke-width="0.3" stroke-opacity="0.75"/>
<circle cx="330.96" cy="170.98" r="0.45" fill="none" stroke="#222" stroke-width="0.3" stroke-opacity="0.75"/>
<circle cx="331.64" cy="158.51" r="0.45" fill="none" stroke="#222" stroke-width="0.3" stroke-opacity="0.75"/>
<circle cx="333.54" cy="168.42" r="0.45" fill="none" stroke="#222" stroke-width="0.3" stroke-opacity="0.75"/>
<circle cx="331.81" cy="156.80" r="0.45" fill="none" stroke="#222" stroke-width="0.3" stroke-opacity="0.75"/>
<circle cx="331.15" cy="163.80" r="0.45" fill="none" stroke="#222" stroke-width="0.3" stroke-opacity="0.75"/>
<circle cx="334.62" cy="190.74" r="0.45" fill="none" stroke="#222" stroke-width="0.3" stroke-opacity="0.75"/>
<circle cx="334.77" cy="171.97" r="0.45" fill="none" stroke="#222" stroke-width="0.3" stroke-opacity="0.75"/>
<circle cx="333.25" cy="155.84" r="0.45" fill="none" stroke="#222" stroke-width="0.3" stroke-opacity="0.75"/>
<circle cx="332.11" cy="160.88" r="0.45" fill="none" stroke="#222" stroke-width="0.3" stroke-opacity="0.75"/>
<circle cx="334.80" cy="164.33" r="0.45" fill="none" stroke="#222" stroke-width="0.3" stroke-opacity="0.75"/>
<circle cx="334.60" cy="192.05" r="0.45" fill="none" stroke="#222" stroke-width="0.3" stroke-opacity="0.75"/>
<circle cx="333.17" cy="167.61" r="0.45" fill="none" stroke="#222" stroke-width="0.3" stroke-opacity="0.75"/>
<circle cx="332.28" cy="185.29" r="0.45" fill="none" stroke="#222" stroke-width="0.3" stroke-opacity="0.75"/>
<circle cx="332.03" cy="158.83" r="0.45" fill="none" stroke="#222" stroke-width="0.3" stroke-opacity="0.75"/>
<circle cx="332.25" cy="174.62" r="0.45" fill="none" stroke="#222" stroke-width="0.3" stroke-opacity="0.75"/>
<circle cx="335.81" cy="170.46" r="0.45" fill="none" stroke="#222" stroke-width="0.3" stroke-opacity="0.75"/>
<circle cx="335.48" cy="181.16" r="0.45" fill="none" stroke="#222" stroke-width="0.3" stroke-opacity="0.75"/>
<circle cx="335.62" cy="162.89" r="0.45" fill="none" stroke="#222" stroke-width="0.3" stroke-opacity="0.75"/>
<circle cx="334.36" cy="155.18" r="0.45" fill="none" stroke="#222" stroke-width="0.3" stroke-opacity="0.75"/>
<circle cx="334.53" cy="207.64" r="0.45" fill="none" stroke="#222" stroke-width="0.3" stroke-opacity="0.75"/>
<circle cx="334.67" cy="183.48" r="0.45" fill="none" stroke="#222" stroke-width="0.3" stroke-opacity="0.75"/>
<circle cx="332.00" cy="150.02" r="0.45" fill="none" stroke="#222" stroke-width="0.3" stroke-opacity="0.75"/>
<circle cx="335.64" cy="146.94" r="0.45" fill="none" stroke="#222" stroke-width="0.3" stroke-opacity="0.75"/>
<circle cx="331.45" cy="159.70" r="0.45" fill="none" stroke="#222" stroke-width="0.3" stroke-opacity="0.75"/>
<circle cx="331.05" cy="197.39" r="0.45" fill="none" stroke="#222" stroke-width="0.3" stroke-opacity="0.75"/>
<circle cx="334.20" cy="169.69" r="0.45" fill="none" stroke="#222" stroke-width="0.3" stroke-opacity="0.75"/>
<circle cx="331.24" cy="189.77" r="0.45" fill="none" stroke="#222" stroke-width="0.3" stroke-opacity="0.75"/>
<circle cx="335.15" cy="150.77" r="0.45" fill="none" stroke="#222" stroke-width="0.3" stroke-opacity="0.75"/>
<circle cx="331.24" cy="193.02" r="0.45" fill="none" stroke="#222" stroke-width="0.3" stroke-opacity="0.75"/>
<circle cx="335.81" cy="193.50" r="0.45" fill="none" stroke="#222" stroke-width="0.3" stroke-opacity="0.75"/>
<circle cx="331.48" cy="162.39" r="0.45" fill="none" stroke="#222" stroke-width="0.3" stroke-opacity="0.75"/>
<circle cx="335.12" cy="172.02" r="0.45" fill="none" stroke="#222" stroke-width="0.3" stroke-opacity="0.75"/>
<circle cx="334.18" cy="156.96" r="0.45" fill="none" stroke="#222" stroke-width="0.3" stroke-opacity="0.75"/>
<circle cx="331.41" cy="160.80" r="0.45" fill="none" stroke="#222" stroke-width="0.3" stroke-opacity="0.75"/>
<circle cx="332.56" cy="178.60" r="0.45" fill="none" stroke="#222" stroke-width="0.3" stroke-opacity="0.75"/>
<circle cx="332.23" cy="159.61" r="0.45" fill="none" stroke="#222" stroke-width="0.3" stroke-opacity="0.75"/>
<circle cx="332.81" cy="170.04" r="0.45" fill="none" stroke="#222" stroke-width="0.3" stroke-opacity="0.75"/>
<circle cx="333.52" cy="173.76" r="0.45" fill="none" stroke="#222" stroke-width="0.3" stroke-opacity="0.75"/>
<circle cx="331.06" cy="187.28" r="0.45" fill="none" stroke="#222" stroke-width="0.3" stroke-opacity="0.75"/>
<circle cx="334.92" cy="165.85" r="0.45" fill="none" stroke="#222" stroke-width="0.3" stroke-opacity="0.75"/>
<circle cx="333.70" cy="169.87" r="0.45" fill="none" stroke="#222" stroke-width="0.3" stroke-opacity="0.75"/>
<circle cx="331.37" cy="172.23" r="0.45" fill="none" stroke="#222" stroke-width="0.3" stroke-opacity="0.75"/>
<circle cx="330.91" cy="177.88" r="0.45" fill="none" stroke="#222" stroke-width="0.3" stroke-opacity="0.75"/>
<circle cx="335.98" cy="170.73" r="0.45" fill="none" stroke="#222" stroke-width="0.3" stroke-opacity="0.75"/>
<circle cx="333.46" cy="166.66" r="0.45" fill="none" stroke="#222" stroke-width="0.3" stroke-opacity="0.75"/>
<circle cx="333.47" cy="178.17" r="0.45" fill="none" stroke="#222" stroke-width="0.3" stroke-opacity="0.75"/>
<circle cx="332.25" cy="171.78" r="0.45" fill="none" stroke="#222" stroke-width="0.3" stroke-opacity="0.75"/>
<circle cx="334.54" cy="198.46" r="0.45" fill="none" stroke="#222" stroke-width="0.3" stroke-opacity="0.75"/>
<circle cx="334.21" cy="147.37" r="0.45" fill="none" stroke="#222" stroke-width="0.3" stroke-opacity="0.75"/>
<circle cx="334.53" cy="171.12" r="0.45" fill="none" stroke="#222" stroke-width="0.3" stroke-opacity="0.75"/>
<circle cx="332.75" cy="187.49" r="0.45" fill="none" stroke="#222" stroke-width="0.3" stroke-opacity="0.75"/>
<circle cx="335.53" cy="165.22" r="0.45" fill="none" stroke="#222" stroke-width="0.3" stroke-opacity="0.75"/>
<circle cx="331.03" cy="172.63" r="0.45" fill="none" stroke="#222" stroke-width="0.3" stroke-opacity="0.75"/>
<circle cx="335.59" cy="163.25" r="0.45" fill="none" stroke="#222" stroke-width="0.3" stroke-opacity="0.75"/>
<circle cx="335.50" cy="150.98" r="0.45" fill="none" stroke="#222" stroke-width="0.3" stroke-opacity="0.75"/>
<circle cx="333.66" cy="166.21" r="0.45" fill="none" stroke="#222" stroke-width="0.3" stroke-opacity="0.75"/>
<circle cx="334.26" cy="190.11" r="0.45" fill="none" stroke="#222" stroke-width="0.3" stroke-opacity="0.75"/>
<circle cx="331.71" cy="164.20" r="0.45" fill="none" stroke="#222" stroke-width="0.3" stroke-opacity="0.75"/>
<circle cx="334.76" cy="188.20" r="0.45" fill="none" stroke="#222" stroke-width="0.3" stroke-opacity="0.75"/>
<circle cx="334.92" cy="165.88" r="0.45" fill="none" stroke="#222" stroke-width="0.3" stroke-opacity="0.75"/>
<circle cx="333.30" cy="147.59" r="0.45" fill="none" stroke="#222" stroke-width="0.3" stroke-opacity="0.75"/>
<circle cx="331.90" cy="179.30" r="0.45" fill="none" stroke="#222" stroke-width="0.3" stroke-opacity="0.75"/>
<circle cx="335.29" cy="169.85" r="0.45" fill="none" stroke="#222" stroke-width="0.3" stroke-opacity="0.75"/>
<circle cx="332.19" cy="161.64" r="0.45" fill="none" stroke="#222" stroke-width="0.3" stroke-opacity="0.75"/>
<circle cx="331.74" cy="167.13" r="0.45" fill="none" stroke="#222" stroke-width="0.3" stroke-opacity="0.75"/>
<circle cx="335.97" cy="162.14" r="0.45" fill="none" stroke="#222" stroke-width="0.3" stroke-opacity="0.75"/>
<circle cx="335.90" cy="176.44" r="0.45" fill="none" stroke="#222" stroke-width="0.3" stroke-opacity="0.75"/>
<circle cx="336.02" cy="165.06" r="0.45" fill="none" stroke="#222" stroke-width="0.3" stroke-opacity="0.75"/>
<circle cx="333.16" cy="189.70" r="0.45" fill="none" stroke="#222" stroke-width="0.3" stroke-opacity="0.75"/>
<circle cx="331.46" cy="168.87" r="0.45" fill="none" stroke="#222" stroke-width="0.3" stroke-opacity="0.75"/>
<circle cx="331.08" cy="165.13" r="0.45" fill="none" stroke="#222" stroke-width="0.3" stroke-opacity="0.75"/>
<circle cx="334.51" cy="171.17" r="0.45" fill="none" stroke="#222" stroke-width="0.3" stroke-opacity="0.75"/>
<circle cx="333.31" cy="154.37" r="0.45" fill="none" stroke="#222" stroke-width="0.3" stroke-opacity="0.75"/>
<circle cx="333.00" cy="168.36" r="0.45" fill="none" stroke="#222" stroke-width="0.3" stroke-opacity="0.75"/>
<circle cx="333.14" cy="193.37" r="0.45" fill="none" stroke="#222" stroke-width="0.3" stroke-opacity="0.75"/>
<circle cx="333.09" cy="155.94" r="0.45" fill="none" stroke="#222" stroke-width="0.3" stroke-opacity="0.75"/>
<circle cx="335.48" cy="170.13" r="0.45" fill="none" stroke="#222" stroke-width="0.3" stroke-opacity="0.75"/>
<circle cx="335.33" cy="189.00" r="0.45" fill="none" stroke="#222" stroke-width="0.3" stroke-opacity="0.75"/>
<circle cx="333.26" cy="154.50" r="0.45" fill="none" stroke="#222" stroke-width="0.3" stroke-opacity="0.75"/>
<circle cx="331.41" cy="168.72" r="0.45" fill="none" stroke="#222" stroke-width="0.3" stroke-opacity="0.75"/>
<circle cx="356.11" cy="200.81" r="0.45" fill="none" stroke="#222" stroke-width="0.3" stroke-opacity="0.75"/>
<circle cx="354.60" cy="182.73" r="0.45" fill="none" stroke="#222" stroke-width="0.3" stroke-opacity="0.75"/>
<circle cx="354.53" cy="187.96" r="0.45" fill="none" stroke="#222" stroke-width="0.3" stroke-opacity="0.75"/>
<circle cx="353.35" cy="192.32" r="0.45" fill="none" stroke="#222" stroke-width="0.3" stroke-opacity="0.75"/>
<circle cx="354.42" cy="190.17" r="0.45" fill="none" stroke="#222" stroke-width="0.3" stroke-opacity="0.75"/>
<circle cx="352.60" cy="192.94" r="0.45" fill="none" stroke="#222" stroke-width="0.3" stroke-opacity="0.75"/>
<circle cx="356.47" cy="181.47" r="0.45" fill="none" stroke="#222" stroke-width="0.3" stroke-opacity="0.75"/>
<circle cx="355.39" cy="161.94" r="0.45" fill="none" stroke="#222" stroke-width="0.3" stroke-opacity="0.75"/>
<circle cx="355.06" cy="189.31" r="0.45" fill="none" stroke="#222" stroke-width="0.3" stroke-opacity="0.75"/>
<circle cx="355.11" cy="190.89" r="0.45" fill="none" stroke="#222" stroke-width="0.3" stroke-opacity="0.75"/>
<circle cx="353.49" cy="202.40" r="0.45" fill="none" stroke="#222" stroke-width="0.3" stroke-opacity="0.75"/>
<circle cx="356.37" cy="207.30" r="0.45" fill="none" stroke="#222" stroke-width="0.3" stroke-opacity="0.75"/>
<circle cx="354.25" cy="202.75" r="0.45" fill="none" stroke="#222" stroke-width="0.3" stroke-opacity="0.75"/>
<circle cx="354.48" cy="195.93" r="0.45" fill="none" stroke="#222" stroke-width="0.3" stroke-opacity="0.75"/>
<circle cx="354.59" cy="197.32" r="0.45" fill="none" stroke="#222" stroke-width="0.3" stroke-opacity="0.75"/>
<circle cx="353.78" cy="206.84" r="0.45" fill="none" stroke="#222" stroke-width="0.3" stroke-opacity="0.75"/>
<circle cx="357.29" cy="200.42" r="0.45" fill="none" stroke="#222" stroke-width="0.3" stroke-opacity="0.75"/>
<circle cx="356.57" cy="182.29" r="0.45" fill="none" stroke="#222" stroke-width="0.3" stroke-opacity="0.75"/>
<circle cx="353.07" cy="195.34" r="0.45" fill="none" stroke="#222" stroke-width="0.3" stroke-opacity="0.75"/>
<circle cx="355.70" cy="211.97" r="0.45" fill="none" stroke="#222" stroke-width="0.3" stroke-opacity="0.75"/>
<circle cx="353.58" cy="187.12" r="0.45" fill="none" stroke="#222" stroke-width="0.3" stroke-opacity="0.75"/>
<circle cx="356.66" cy="172.26" r="0.45" fill="none" stroke="#222" stroke-width="0.3" stroke-opacity="0.75"/>
<circle cx="353.93" cy="208.14" r="0.45" fill="none" stroke="#222" stroke-width="0.3" stroke-opacity="0.75"/>
<circle cx="356.74" cy="180.96" r="0.45" fill="none" stroke="#222" stroke-width="0.3" stroke-opacity="0.75"/>
<circle cx="353.79" cy="201.47" r="0.45" fill="none" stroke="#222" stroke-width="0.3" stroke-opacity="0.75"/>
<circle cx="354.62" cy="195.73" r="0.45" fill="none" stroke="#222" stroke-width="0.3" stroke-opacity="0.75"/>
<circle cx="356.15" cy="193.33" r="0.45" fill="none" stroke="#222" stroke-width="0.3" stroke-opacity="0.75"/>
<circle cx="353.97" cy="195.65" r="0.45" fill="none" stroke="#222" stroke-width="0.3" stroke-opacity="0.75"/>
<circle cx="355.71" cy="185.24" r="0.45" fill="none" stroke="#222" stroke-width="0.3" stroke-opacity="0.75"/>
<circle cx="357.23" cy="184.31" r="0.45" fill="none" stroke="#222" stroke-width="0.3" stroke-opacity="0.75"/>
<circle cx="356.71" cy="203.54" r="0.45" fill="none" stroke="#222" stroke-width="0.3" stroke-opacity="0.75"/>
<circle cx="353.13" cy="211.68" r="0.45" fill="none" stroke="#222" stroke-width="0.3" stroke-opacity="0.75"/>
<circle cx="352.48" cy="209.99" r="0.45" fill="none" stroke="#222" stroke-width="0.3" stroke-opacity="0.75"/>
<circle cx="355.81" cy="202.44" r="0.45" fill="none" stroke="#222" stroke-width="0.3" stroke-opacity="0.75"/>
<circle cx="353.14" cy="194.27" r="0.45" fill="none" stroke="#222" stroke-width="0.3" stroke-opacity="0.75"/>
<circle cx="354.20" cy="200.75" r="0.45" fill="none" stroke="#222" stroke-width="0.3" stroke-opacity="0.75"/>
<circle cx="356.52" cy="201.98" r="0.45" fill="none" stroke="#222" stroke-width="0.3" stroke-opacity="0.75"/>
<circle cx="355.56" cy="201.85" r="0.45" fill="none" stroke="#222" stroke-width="0.3" stroke-opacity="0.75"/>
<circle cx="357.05" cy="210.39" r="0.45" fill="none" stroke="#222" stroke-width="0.3" stroke-opacity="0.75"/>
<circle cx="353.43" cy="212.29" r="0.45" fill="none" stroke="#222" stroke-width="0.3" stroke-opacity="0.75"/>
<circle cx="356.26" cy="208.84" r="0.45" fill="none" stroke="#222" stroke-width="0.3" stroke-opacity="0.75"/>
<circle cx="355.29" cy="201.77" r="0.45" fill="none" stroke="#222" stroke-width="0.3" stroke-opacity="0.75"/>
<circle cx="353.12" cy="195.55" r="0.45" fill="none" stroke="#222" stroke-width="0.3" stroke-opacity="0.75"/>
<circle cx="354.83" cy="180.02" r="0.45" fill="none" stroke="#222" stroke-width="0.3" stroke-opacity="0.75"/>
<circle cx="354.99" cy="198.02" r="0.45" fill="none" stroke="#222" stroke-width="0.3" stroke-opacity="0.75"/>
<circle cx="352.43" cy="191.37" r="0.45" fill="none" stroke="#222" stroke-width="0.3" stroke-opacity="0.75"/>
<circle cx="355.33" cy="208.14" r="0.45" fill="none" stroke="#222" stroke-width="0.3" stroke-opacity="0.75"/>
<circle cx="354.35" cy="191.05" r="0.45" fill="none" stroke="#222" stroke-width="0.3" stroke-opacity="0.75"/>
<circle cx="352.79" cy="202.52" r="0.45" fill="none" stroke="#222" stroke-width="0.3" stroke-opacity="0.75"/>
<circle cx="352.55" cy="188.17" r="0.45" fill="none" stroke="#222" stroke-width="0.3" stroke-opacity="0.75"/>
<circle cx="357.24" cy="188.82" r="0.45" fill="none" stroke="#222" stroke-width="0.3" stroke-opacity="0.75"/>
<circle cx="355.06" cy="202.72" r="0.45" fill="none" stroke="#222" stroke-width="0.3" stroke-opacity="0.75"/>
<circle cx="352.58" cy="191.86" r="0.45" fill="none" stroke="#222" stroke-width="0.3" stroke-opacity="0.75"/>
<circle cx="354.16" cy="209.90" r="0.45" fill="none" stroke="#222" stroke-width="0.3" stroke-opacity="0.75"/>
<circle cx="354.87" cy="207.00" r="0.45" fill="none" stroke="#222" stroke-width="0.3" stroke-opacity="0.75"/>
<circle cx="353.50" cy="190.07" r="0.45" fill="none" stroke="#222" stroke-width="0.3" stroke-opacity="0.75"/>
<circle cx="355.28" cy="197.35" r="0.45" fill="none" stroke="#222" stroke-width="0.3" stroke-opacity="0.75"/>
<circle cx="356.70" cy="206.18" r="0.45" fill="none" stroke="#222" stroke-width="0.3" stroke-opacity="0.75"/>
<circle cx="353.81" cy="198.14" r="0.45" fill="none" stroke="#222" stroke-width="0.3" stroke-opacity="0.75"/>
<circle cx="355.80" cy="192.95" r="0.45" fill="none" stroke="#222" stroke-width="0.3" stroke-opacity="0.75"/>
<circle cx="354.05" cy="206.61" r="0.45" fill="none" stroke="#222" stroke-width="0.3" stroke-opacity="0.75"/>
<circle cx="355.70" cy="198.93" r="0.45" fill="none" stroke="#222" stroke-width="0.3" stroke-opacity="0.75"/>
<circle cx="356.16" cy="203.35" r="0.45" fill="none" stroke="#222" stroke-width="0.3" stroke-opacity="0.75"/>
<circle cx="352.66" cy="209.01" r="0.45" fill="none" stroke="#222" stroke-width="0.3" stroke-opacity="0.75"/>
<circle cx="353.39" cy="193.36" r="0.45" fill="none" stroke="#222" stroke-width="0.3" stroke-opacity="0.75"/>
<circle cx="356.50" cy="172.63" r="0.45" fill="none" stroke="#222" stroke-width="0.3" stroke-opacity="0.75"/>
<circle cx="355.61" cy="209.75" r="0.45" fill="none" stroke="#222" stroke-width="0.3" stroke-opacity="0.75"/>
<circle cx="355.50" cy="189.02" r="0.45" fill="none" stroke="#222" stroke-width="0.3" stroke-opacity="0.75"/>
<circle cx="355.87" cy="205.28" r="0.45" fill="none" stroke="#222" stroke-width="0.3" stroke-opacity="0.75"/>
<circle cx="352.93" cy="189.95" r="0.45" fill="none" stroke="#222" stroke-width="0.3" stroke-opacity="0.75"/>
<circle cx="356.43" cy="193.65" r="0.45" fill="none" stroke="#222" stroke-width="0.3" stroke-opacity="0.75"/>
<circle cx="356.68" cy="167.08" r="0.45" fill="none" stroke="#222" stroke-width="0.3" stroke-opacity="0.75"/>
<circle cx="353.74" cy="209.20" r="0.45" fill="none" stroke="#222" stroke-width="0.3" stroke-opacity="0.75"/>
<circle cx="354.06" cy="197.35" r="0.45" fill="none" stroke="#222" stroke-width="0.3" stroke-opacity="0.75"/>
<circle cx="357.26" cy="199.46" r="0.45" fill="none" stroke="#222" stroke-width="0.3" stroke-opacity="0.75"/>
<circle cx="352.60" cy="198.75" r="0.45" fill="none" stroke="#222" stroke-width="0.3" stroke-opacity="0.75"/>
<circle cx="355.39" cy="201.08" r="0.45" fill="none" stroke="#222" stroke-width="0.3" stroke-opacity="0.75"/>
<circle cx="354.41" cy="160.27" r="0.45" fill="none" stroke="#222" stroke-width="0.3" stroke-opacity="0.75"/>
<circle cx="357.50" cy="192.42" r="0.45" fill="none" stroke="#222" stroke-width="0.3" stroke-opacity="0.75"/>
<circle cx="352.93" cy="185.02" r="0.45" fill="none" stroke="#222" stroke-width="0.3" stroke-opacity="0.75"/>
<circle cx="353.19" cy="182.19" r="0.45" fill="none" stroke="#222" stroke-width="0.3" stroke-opacity="0.75"/>
<circle cx="355.96" cy="193.35" r="0.45" fill="none" stroke="#222" stroke-width="0.3" stroke-opacity="0.75"/>
<circle cx="352.86" cy="202.58" r="0.45" fill="none" stroke="#222" stroke-width="0.3" stroke-opacity="0.75"/>
<circle cx="352.49" cy="204.34" r="0.45" fill="none" stroke="#222" stroke-width="0.3" stroke-opacity="0.75"/>
<circle cx="356.21" cy="205.61" r="0.45" fill="none" stroke="#222" stroke-width="0.3" stroke-opacity="0.75"/>
<circle cx="356.42" cy="193.78" r="0.45" fill="none" stroke="#222" stroke-width="0.3" stroke-opacity="0.75"/>
<circle cx="356.19" cy="212.48" r="0.45" fill="none" stroke="#222" stroke-width="0.3" stroke-opacity="0.75"/>
<circle cx="356.09" cy="199.33" r="0.45" fill="none" stroke="#222" stroke-width="0.3" stroke-opacity="0.75"/>
<circle cx="353.72" cy="192.35" r="0.45" fill="none" stroke="#222" stroke-width="0.3" stroke-opacity="0.75"/>
<circle cx="352.48" cy="160.22" r="0.45" fill="none" stroke="#222" stroke-width="0.3" stroke-opacity="0.75"/>
<circle cx="352.81" cy="190.72" r="0.45" fill="none" stroke="#222" stroke-width="0.3" stroke-opacity="0.75"/>
<circle cx="353.26" cy="200.30" r="0.45" fill="none" stroke="#222" stroke-width="0.3" stroke-opacity="0.75"/>
<circle cx="352.71" cy="208.35" r="0.45" fill="none" stroke="#222" stroke-width="0.3" stroke-opacity="0.75"/>
<circle cx="354.68" cy="198.82" r="0.45" fill="none" stroke="#222" stroke-width="0.3" stroke-opacity="0.75"/>
<circle cx="356.55" cy="181.24" r="0.45" fill="none" stroke="#222" stroke-width="0.3" stroke-opacity="0.75"/>
<circle cx="355.67" cy="199.49" r="0.45" fill="none" stroke="#222" stroke-width="0.3" stroke-opacity="0.75"/>
<circle cx="356.49" cy="197.00" r="0.45" fill="none" stroke="#222" stroke-width="0.3" stroke-opacity="0.75"/>
<circle cx="353.92" cy="170.88" r="0.45" fill="none" stroke="#222" stroke-width="0.3" stroke-opacity="0.75"/>
<circle cx="356.06" cy="202.65" r="0.45" fill="none" stroke="#222" stroke-width="0.3" stroke-opacity="0.75"/>
<circle cx="355.55" cy="206.62" r="0.45" fill="none" stroke="#222" stroke-width="0.3" stroke-opacity="0.75"/>
<circle cx="354.00" cy="171.54" r="0.45" fill="none" stroke="#222" stroke-width="0.3" stroke-opacity="0.75"/>
<circle cx="354.36" cy="201.83" r="0.45" fill="none" stroke="#222" stroke-width="0.3" stroke-opacity="0.75"/>
<circle cx="357.06" cy="209.64" r="0.45" fill="none" stroke="#222" stroke-width="0.3" stroke-opacity="0.75"/>
<circle cx="352.41" cy="206.07" r="0.45" fill="none" stroke="#222" stroke-width="0.3" stroke-opacity="0.75"/>
<circle cx="355.45" cy="197.36" r="0.45" fill="none" stroke="#222" stroke-width="0.3" stroke-opacity="0.75"/>
<circle cx="352.62" cy="212.84" r="0.45" fill="none" stroke="#222" stroke-width="0.3" stroke-opacity="0.75"/>
<circle cx="356.91" cy="211.99" r="0.45" fill="none" stroke="#222" stroke-width="0.3" stroke-opacity="0.75"/>
<circle cx="356.83" cy="183.06" r="0.45" fill="none" stroke="#222" stroke-width="0.3" stroke-opacity="0.75"/>
<circle cx="357.15" cy="210.57" r="0.45" fill="none" stroke="#222" stroke-width="0.3" stroke-opacity="0.75"/>
<circle cx="355.28" cy="194.12" r="0.45" fill="none" stroke="#222" stroke-width="0.3" stroke-opacity="0.75"/>
<circle cx="356.30" cy="205.14" r="0.45" fill="none" stroke="#222" stroke-width="0.3" stroke-opacity="0.75"/>
<circle cx="355.92" cy="171.65" r="0.45" fill="none" stroke="#222" stroke-width="0.3" stroke-opacity="0.75"/>
<circle cx="353.72" cy="182.11" r="0.45" fill="none" stroke="#222" stroke-width="0.3" stroke-opacity="0.75"/>
<circle cx="354.79" cy="211.77" r="0.45" fill="none" stroke="#222" stroke-width="0.3" stroke-opacity="0.75"/>
<circle cx="356.42" cy="201.04" r="0.45" fill="none" stroke="#222" stroke-width="0.3" stroke-opacity="0.75"/>
<circle cx="357.06" cy="198.86" r="0.45" fill="none" stroke="#222" stroke-width="0.3" stroke-opacity="0.75"/>
<circle cx="354.88" cy="208.74" r="0.45" fill="none" stroke="#222" stroke-width="0.3" stroke-opacity="0.75"/>
<circle cx="353.40" cy="181.87" r="0.45" fill="none" stroke="#222" stroke-width="0.3" stroke-opacity="0.75"/>
<circle cx="354.29" cy="200.03" r="0.45" fill="none" stroke="#222" stroke-width="0.3" stroke-opacity="0.75"/>
<circle cx="355.09" cy="184.88" r="0.45" fill="none" stroke="#222" stroke-width="0.3" stroke-opacity="0.75"/>
<circle cx="357.59" cy="193.73" r="0.45" fill="none" stroke="#222" stroke-width="0.3" stroke-opacity="0.75"/>
<circle cx="355.69" cy="194.32" r="0.45" fill="none" stroke="#222" stroke-width="0.3" stroke-opacity="0.75"/>
<circle cx="355.51" cy="204.65" r="0.45" fill="none" stroke="#222" stroke-width="0.3" stroke-opacity="0.75"/>
<circle cx="352.51" cy="198.29" r="0.45" fill="none" stroke="#222" stroke-width="0.3" stroke-opacity="0.75"/>
<circle cx="356.90" cy="202.81" r="0.45" fill="none" stroke="#222" stroke-width="0.3" stroke-opacity="0.75"/>
<circle cx="353.76" cy="187.20" r="0.45" fill="none" stroke="#222" stroke-width="0.3" stroke-opacity="0.75"/>
<circle cx="357.32" cy="207.67" r="0.45" fill="none" stroke="#222" stroke-width="0.3" stroke-opacity="0.75"/>
<circle cx="357.41" cy="212.07" r="0.45" fill="none" stroke="#222" stroke-width="0.3" stroke-opacity="0.75"/>
<circle cx="353.45" cy="193.66" r="0.45" fill="none" stroke="#222" stroke-width="0.3" stroke-opacity="0.75"/>
<circle cx="352.67" cy="194.10" r="0.45" fill="none" stroke="#222" stroke-width="0.3" stroke-opacity="0.75"/>
<circle cx="354.78" cy="191.48" r="0.45" fill="none" stroke="#222" stroke-width="0.3" stroke-opacity="0.75"/>
<circle cx="355.51" cy="214.22" r="0.45" fill="none" stroke="#222" stroke-width="0.3" stroke-opacity="0.75"/>
<circle cx="357.39" cy="194.45" r="0.45" fill="none" stroke="#222" stroke-width="0.3" stroke-opacity="0.75"/>
<circle cx="355.73" cy="198.72" r="0.45" fill="none" stroke="#222" stroke-width="0.3" stroke-opacity="0.75"/>
<circle cx="354.73" cy="167.55" r="0.45" fill="none" stroke="#222" stroke-width="0.3" stroke-opacity="0.75"/>
<circle cx="357.56" cy="202.57" r="0.45" fill="none" stroke="#222" stroke-width="0.3" stroke-opacity="0.75"/>
<circle cx="353.73" cy="193.67" r="0.45" fill="none" stroke="#222" stroke-width="0.3" stroke-opacity="0.75"/>
<circle cx="357.10" cy="201.97" r="0.45" fill="none" stroke="#222" stroke-width="0.3" stroke-opacity="0.75"/>
<circle cx="356.49" cy="203.43" r="0.45" fill="none" stroke="#222" stroke-width="0.3" stroke-opacity="0.75"/>
<circle cx="357.52" cy="210.14" r="0.45" fill="none" stroke="#222" stroke-width="0.3" stroke-opacity="0.75"/>
<polyline points="333,142.7 333,140.7 355.6,140.7 355.6,159.3" fill="none" stroke="#999" stroke-width="0.8"/>
<rect x="343.3" y="139.7" width="2" height="2" fill="#ff2020"/>
<rect x="309.3" y="136.4" width="70.19999999999999" height="117.6" fill="none" stroke="#333" stroke-width="1.3"/>
<text transform="translate(294.8,202.2) rotate(-90)" class="t6" text-anchor="middle">Expression-log<tspan font-size="4" dy="1.5">2</tspan><tspan dy="-1.5">(TPM+1)</tspan></text>
<text x="343.4" y="263.4" class="t63" text-anchor="middle">(num(T) = 179,num(N) = 171)</text>
<text x="343.4" y="273.1" class="t63" text-anchor="middle">FOXP1</text>
<text x="127" y="139" class="pl">C</text>
<text x="212" y="149.6" class="t7" text-anchor="middle">Overall Survival</text>
<line x1="160.5" y1="243.70" x2="163.7" y2="243.70" stroke="#333" stroke-width="0.8"/>
<text transform="translate(156.6,243.70) rotate(-90)" class="t6" text-anchor="middle">0.0</text>
<line x1="160.5" y1="226.24" x2="163.7" y2="226.24" stroke="#333" stroke-width="0.8"/>
<text transform="translate(156.6,226.24) rotate(-90)" class="t6" text-anchor="middle">0.2</text>
<line x1="160.5" y1="208.78" x2="163.7" y2="208.78" stroke="#333" stroke-width="0.8"/>
<text transform="translate(156.6,208.78) rotate(-90)" class="t6" text-anchor="middle">0.4</text>
<line x1="160.5" y1="191.32" x2="163.7" y2="191.32" stroke="#333" stroke-width="0.8"/>
<text transform="translate(156.6,191.32) rotate(-90)" class="t6" text-anchor="middle">0.6</text>
<line x1="160.5" y1="173.86" x2="163.7" y2="173.86" stroke="#333" stroke-width="0.8"/>
<text transform="translate(156.6,173.86) rotate(-90)" class="t6" text-anchor="middle">0.8</text>
<line x1="160.5" y1="156.40" x2="163.7" y2="156.40" stroke="#333" stroke-width="0.8"/>
<text transform="translate(156.6,156.40) rotate(-90)" class="t6" text-anchor="middle">1.0</text>
<line x1="164.25" y1="247" x2="164.25" y2="249.8" stroke="#333" stroke-width="0.8"/>
<text x="164.25" y="260.9" class="t6" text-anchor="middle">0</text>
<line x1="184.90" y1="247" x2="184.90" y2="249.8" stroke="#333" stroke-width="0.8"/>
<text x="184.90" y="260.9" class="t6" text-anchor="middle">20</text>
<line x1="205.55" y1="247" x2="205.55" y2="249.8" stroke="#333" stroke-width="0.8"/>
<text x="205.55" y="260.9" class="t6" text-anchor="middle">40</text>
<line x1="226.20" y1="247" x2="226.20" y2="249.8" stroke="#333" stroke-width="0.8"/>
<text x="226.20" y="260.9" class="t6" text-anchor="middle">60</text>
<line x1="246.85" y1="247" x2="246.85" y2="249.8" stroke="#333" stroke-width="0.8"/>
<text x="246.85" y="260.9" class="t6" text-anchor="middle">80</text>
<text transform="translate(145,199.5) rotate(-90)" class="t6" text-anchor="middle">Percent survival</text>
<polyline points="164.30,156.40 168.00,156.40 168.00,157.20 171.00,157.20 171.00,159.00 173.30,159.00 173.30,160.55 175.60,160.55 175.60,162.10 176.80,162.10 176.80,163.80 178.00,163.80 178.00,165.50 179.20,165.50 179.20,167.20 180.03,167.20 180.03,168.87 180.87,168.87 180.87,170.53 181.70,170.53 181.70,172.20 182.55,172.20 182.55,174.10 183.40,174.10 183.40,176.00 184.37,176.00 184.37,177.67 185.33,177.67 185.33,179.33 186.30,179.33 186.30,181.00 187.13,181.00 187.13,182.70 187.97,182.70 187.97,184.40 188.80,184.40 188.80,186.10 188.80,187.60 196.40,187.60 196.40,189.60 201.40,189.60 201.40,192.20 205.50,192.20 205.50,194.20 210.50,194.20 210.50,196.00 216.80,196.00 216.80,198.60 259.50,198.60" fill="none" stroke="#b0b0ff" stroke-width="0.8" stroke-opacity="1" stroke-linejoin="miter"/>
<polyline points="164.30,156.40 167.00,156.40 167.00,158.00 168.50,158.00 168.50,160.00 170.00,160.00 170.00,162.00 171.00,162.00 171.00,163.67 172.00,163.67 172.00,165.33 173.00,165.33 173.00,167.00 173.83,167.00 173.83,168.67 174.67,168.67 174.67,170.33 175.50,170.33 175.50,172.00 176.04,172.00 176.04,173.80 176.58,173.80 176.58,175.60 177.12,175.60 177.12,177.40 177.66,177.40 177.66,179.20 178.20,179.20 178.20,181.00 179.13,181.00 179.13,183.00 180.07,183.00 180.07,185.00 181.00,185.00 181.00,187.00 181.83,187.00 181.83,189.00 182.67,189.00 182.67,191.00 183.50,191.00 183.50,193.00 184.33,193.00 184.33,195.00 185.17,195.00 185.17,197.00 186.00,197.00 186.00,199.00 186.83,199.00 186.83,201.00 187.67,201.00 187.67,203.00 188.50,203.00 188.50,205.00 189.10,205.00 189.10,206.70 189.70,206.70 189.70,208.40 190.30,208.40 190.30,210.10 190.30,210.10 195.40,210.10 195.40,212.10 201.40,212.10 201.40,216.20 210.50,216.20 210.50,222.50 214.00,222.50 214.00,225.00 217.00,225.00 217.00,228.30 259.30,228.30" fill="none" stroke="#b0b0ff" stroke-width="0.8" stroke-opacity="1" stroke-linejoin="miter"/>
<polyline points="164.30,156.40 166.40,156.40 166.40,158.30 168.50,158.30 168.50,160.20 170.60,160.20 170.60,162.10 171.43,162.10 171.43,163.80 172.27,163.80 172.27,165.50 173.10,165.50 173.10,167.20 173.77,167.20 173.77,168.87 174.43,168.87 174.43,170.53 175.10,170.53 175.10,172.20 176.15,172.20 176.15,174.35 177.20,174.35 177.20,176.50 178.20,176.50 178.20,178.75 179.20,178.75 179.20,181.00 179.87,181.00 179.87,182.70 180.53,182.70 180.53,184.40 181.20,184.40 181.20,186.10 181.70,186.10 181.70,187.80 182.20,187.80 182.20,189.50 182.70,189.50 182.70,191.20 183.37,191.20 183.37,192.87 184.03,192.87 184.03,194.53 184.70,194.53 184.70,196.20 185.40,196.20 185.40,197.90 186.10,197.90 186.10,199.60 186.80,199.60 186.80,201.30 187.40,201.30 187.40,203.15 188.00,203.15 188.00,205.00 189.30,205.00 189.30,207.20 234.30,207.20" fill="none" stroke="#ffaaaa" stroke-width="0.8" stroke-opacity="1" stroke-linejoin="miter"/>
<polyline points="164.30,156.40 164.97,156.40 164.97,157.93 165.63,157.93 165.63,159.47 166.30,159.47 166.30,161.00 167.07,161.00 167.07,163.07 167.83,163.07 167.83,165.13 168.60,165.13 168.60,167.20 169.02,167.20 169.02,168.88 169.43,168.88 169.43,170.57 169.85,170.57 169.85,172.25 170.27,172.25 170.27,173.93 170.68,173.93 170.68,175.62 171.10,175.62 171.10,177.30 171.70,177.30 171.70,179.23 172.30,179.23 172.30,181.15 172.90,181.15 172.90,183.07 173.50,183.07 173.50,185.00 174.33,185.00 174.33,187.00 175.17,187.00 175.17,189.00 176.00,189.00 176.00,191.00 176.83,191.00 176.83,193.00 177.67,193.00 177.67,195.00 178.50,195.00 178.50,197.00 179.17,197.00 179.17,198.67 179.83,198.67 179.83,200.33 180.50,200.33 180.50,202.00 181.38,202.00 181.38,204.00 182.25,204.00 182.25,206.00 183.12,206.00 183.12,208.00 184.00,208.00 184.00,210.00 184.58,210.00 184.58,211.67 185.17,211.67 185.17,213.33 185.75,213.33 185.75,215.00 186.33,215.00 186.33,216.67 186.92,216.67 186.92,218.33 187.50,218.33 187.50,220.00 188.20,220.00 188.20,221.85 188.90,221.85 188.90,223.70 189.60,223.70 189.60,225.55 190.30,225.55 190.30,227.40 234.20,227.40" fill="none" stroke="#ffaaaa" stroke-width="0.8" stroke-opacity="1" stroke-linejoin="miter"/>
<line x1="234.3" y1="203.7" x2="234.3" y2="236.5" stroke="#ffaaaa" stroke-width="0.7"/>
<polyline points="164.30,156.40 167.50,156.40 167.50,158.60 169.55,158.60 169.55,160.35 171.60,160.35 171.60,162.10 172.77,162.10 172.77,163.80 173.93,163.80 173.93,165.50 175.10,165.50 175.10,167.20 176.07,167.20 176.07,168.87 177.03,168.87 177.03,170.53 178.00,170.53 178.00,172.20 178.73,172.20 178.73,173.90 179.47,173.90 179.47,175.60 180.20,175.60 180.20,177.30 180.95,177.30 180.95,179.15 181.70,179.15 181.70,181.00 182.37,181.00 182.37,182.70 183.03,182.70 183.03,184.40 183.70,184.40 183.70,186.10 184.37,186.10 184.37,187.80 185.03,187.80 185.03,189.50 185.70,189.50 185.70,191.20 186.40,191.20 186.40,192.87 187.10,192.87 187.10,194.53 187.80,194.53 187.80,196.20 188.45,196.20 188.45,198.25 189.10,198.25 189.10,200.30 189.10,200.30 196.40,200.30 196.40,202.30 200.40,202.30 200.40,204.00 203.00,204.00 203.00,208.10 208.50,208.10 208.50,209.60 210.50,209.60 210.50,212.10 214.60,212.10 214.60,214.20 216.60,214.20 216.60,217.60 259.80,217.60" fill="none" stroke="#1e2cff" stroke-width="1.3" stroke-opacity="1" stroke-linejoin="miter"/>
<polyline points="164.30,156.40 166.30,156.40 166.30,158.80 167.45,158.80 167.45,160.45 168.60,160.45 168.60,162.10 169.10,162.10 169.10,163.80 169.60,163.80 169.60,165.50 170.10,165.50 170.10,167.20 170.77,167.20 170.77,168.87 171.43,168.87 171.43,170.53 172.10,170.53 172.10,172.20 172.60,172.20 172.60,173.90 173.10,173.90 173.10,175.60 173.60,175.60 173.60,177.30 174.35,177.30 174.35,179.15 175.10,179.15 175.10,181.00 175.80,181.00 175.80,182.70 176.50,182.70 176.50,184.40 177.20,184.40 177.20,186.10 177.87,186.10 177.87,187.80 178.53,187.80 178.53,189.50 179.20,189.50 179.20,191.20 180.03,191.20 180.03,192.87 180.87,192.87 180.87,194.53 181.70,194.53 181.70,196.20 182.37,196.20 182.37,197.90 183.03,197.90 183.03,199.60 183.70,199.60 183.70,201.30 184.70,201.30 184.70,203.15 185.70,203.15 185.70,205.00 186.50,205.00 186.50,207.05 187.30,207.05 187.30,209.10 187.97,209.10 187.97,211.13 188.63,211.13 188.63,213.17 189.30,213.17 189.30,215.20 189.80,215.20 189.80,217.35 190.30,217.35 190.30,219.50 234.20,219.50 234.20,227.40 239.70,227.40 239.70,243.60" fill="none" stroke="#ff1414" stroke-width="1.3" stroke-opacity="1" stroke-linejoin="miter"/>
<line x1="231.5" y1="216.2" x2="231.5" y2="219" stroke="#1e2cff" stroke-width="0.8"/>
<line x1="236.6" y1="216.2" x2="236.6" y2="219" stroke="#1e2cff" stroke-width="0.8"/>
<line x1="243.7" y1="216.2" x2="243.7" y2="219" stroke="#1e2cff" stroke-width="0.8"/>
<line x1="259.8" y1="216.2" x2="259.8" y2="219" stroke="#1e2cff" stroke-width="0.8"/>
<line x1="194.3" y1="218.1" x2="194.3" y2="220.9" stroke="#ff1414" stroke-width="0.8"/>
<line x1="197.9" y1="218.1" x2="197.9" y2="220.9" stroke="#ff1414" stroke-width="0.8"/>
<line x1="202.4" y1="218.1" x2="202.4" y2="220.9" stroke="#ff1414" stroke-width="0.8"/>
<line x1="206.5" y1="218.1" x2="206.5" y2="220.9" stroke="#ff1414" stroke-width="0.8"/>
<line x1="210" y1="218.1" x2="210" y2="220.9" stroke="#ff1414" stroke-width="0.8"/>
<rect x="163.7" y="152.7" width="99.5" height="94.3" fill="none" stroke="#333" stroke-width="1.2"/>
<line x1="218.6" y1="156.4" x2="226.2" y2="156.4" stroke="#2030ff" stroke-width="0.8"/>
<line x1="218.6" y1="160.3" x2="226.2" y2="160.3" stroke="#ff1010" stroke-width="0.8"/>
<text x="228.2" y="157.8" class="t45" textLength="32.8">Low FOXM1 TPM</text>
<text x="228.2" y="162.1" class="t45" textLength="33.8">High FOXM1 TPM</text>
<text x="228.2" y="167.2" class="t45" textLength="31.2">Logrank p = 0.01</text>
<text x="234.7" y="172.1" class="t45" textLength="27.2">HR(high) = 1.7</text>
<text x="235.99999999999997" y="176.6" class="t45" textLength="25.9">p(HR) = 0.011</text>
<text x="239.7" y="181.7" class="t45" textLength="22.2">n(high) = 89</text>
<text x="240.7" y="186.2" class="t45" textLength="21.2">n(low) = 89</text>
<text x="395.4" y="139" class="pl">E</text>
<text x="419.7" y="145.2" class="t65" textLength="119">Relative expression of FOXP1 in PAAD</text>
<line x1="417" y1="245.00" x2="420.3" y2="245.00" stroke="#555" stroke-width="0.8"/>
<text x="414.4" y="247.20" class="t65" text-anchor="end">2</text>
<line x1="417" y1="221.40" x2="420.3" y2="221.40" stroke="#555" stroke-width="0.8"/>
<text x="414.4" y="223.60" class="t65" text-anchor="end">3</text>
<line x1="417" y1="197.80" x2="420.3" y2="197.80" stroke="#555" stroke-width="0.8"/>
<text x="414.4" y="200.00" class="t65" text-anchor="end">4</text>
<line x1="417" y1="174.20" x2="420.3" y2="174.20" stroke="#555" stroke-width="0.8"/>
<text x="414.4" y="176.40" class="t65" text-anchor="end">5</text>
<line x1="417" y1="150.60" x2="420.3" y2="150.60" stroke="#555" stroke-width="0.8"/>
<text x="414.4" y="152.80" class="t65" text-anchor="end">6</text>
<polygon points="434.55,176.40 433.20,178.50 431.30,181.80 429.80,185.00 427.90,190.50 427.30,196.00 428.70,201.40 430.90,206.80 432.40,212.30 433.60,217.50 434.80,222.90 435.80,228.40 436.60,233.80 437.00,238.00 437.30,240.40 439.10,240.40 439.40,238.00 439.80,233.80 440.60,228.40 441.60,222.90 442.80,217.50 444.00,212.30 445.50,206.80 447.70,201.40 449.10,196.00 448.50,190.50 446.60,185.00 445.10,181.80 443.20,178.50 441.85,176.40" fill="#7a7af2" stroke="#4a4ad0" stroke-width="0.45"/>
<line x1="438.2" y1="176.40" x2="438.2" y2="240.40" stroke="#333" stroke-width="0.4"/>
<polygon points="464.00,167.10 460.90,172.40 457.90,177.50 455.70,181.80 455.20,185.00 455.30,190.50 456.80,196.00 458.80,201.40 461.00,206.80 462.75,212.30 464.20,217.50 464.80,222.90 465.20,230.00 465.40,242.40 466.20,242.40 466.40,230.00 466.80,222.90 467.40,217.50 468.85,212.30 470.60,206.80 472.80,201.40 474.80,196.00 476.30,190.50 476.40,185.00 475.90,181.80 473.70,177.50 470.70,172.40 467.60,167.10" fill="#7a7af2" stroke="#4a4ad0" stroke-width="0.45"/>
<line x1="465.8" y1="167.10" x2="465.8" y2="242.40" stroke="#333" stroke-width="0.4"/>
<polygon points="484.70,194.60 483.70,197.00 483.10,200.00 482.20,205.50 482.50,210.00 483.00,212.50 483.70,214.20 502.10,214.20 502.80,212.50 503.30,210.00 503.60,205.50 502.70,200.00 502.10,197.00 501.10,194.60" fill="#7a7af2" stroke="#4a4ad0" stroke-width="0.45"/>
<line x1="492.9" y1="194.60" x2="492.9" y2="214.20" stroke="#333" stroke-width="0.4"/>
<polygon points="511.30,169.90 510.90,171.00 510.50,175.00 510.10,180.00 509.60,185.00 509.50,190.00 509.50,193.60 531.30,193.60 531.30,190.00 531.20,185.00 530.70,180.00 530.30,175.00 529.90,171.00 529.50,169.90" fill="#7a7af2" stroke="#4a4ad0" stroke-width="0.45"/>
<line x1="520.4" y1="169.90" x2="520.4" y2="193.60" stroke="#333" stroke-width="0.4"/>
<line x1="438.2" y1="189.4" x2="438.2" y2="205.7" stroke="#000" stroke-width="1.5"/>
<circle cx="438.2" cy="198.6" r="0.85" fill="#fff"/>
<line x1="465.8" y1="181.8" x2="465.8" y2="198.6" stroke="#000" stroke-width="1.5"/>
<circle cx="465.8" cy="191" r="0.85" fill="#fff"/>
<line x1="492.9" y1="200.4" x2="492.9" y2="210.7" stroke="#000" stroke-width="1.5"/>
<circle cx="492.9" cy="206.4" r="0.85" fill="#fff"/>
<line x1="520.4" y1="174.8" x2="520.4" y2="192.8" stroke="#000" stroke-width="1.5"/>
<circle cx="520.4" cy="185" r="0.85" fill="#fff"/>
<rect x="420.3" y="151" width="117.7" height="94" fill="none" stroke="#555" stroke-width="0.9"/>
<line x1="438.2" y1="245" x2="438.2" y2="248" stroke="#555" stroke-width="0.8"/>
<line x1="465.8" y1="245" x2="465.8" y2="248" stroke="#555" stroke-width="0.8"/>
<line x1="492.9" y1="245" x2="492.9" y2="248" stroke="#555" stroke-width="0.8"/>
<line x1="520.4" y1="245" x2="520.4" y2="248" stroke="#555" stroke-width="0.8"/>
<text x="437.6" y="257.4" class="t65" text-anchor="middle">Stage I</text>
<text x="465.5" y="257.4" class="t65" text-anchor="middle">Stage II</text>
<text x="492.5" y="257.4" class="t65" text-anchor="middle">Stage III</text>
<text x="520" y="257.4" class="t65" text-anchor="middle">Stage IV</text>
<text x="500" y="157" class="t5" textLength="30.2">F value = 4.22</text>
<text x="500" y="163" class="t5" textLength="35.8">Pr(&gt;F) = 0.00656</text>
</svg>
</body></html>
